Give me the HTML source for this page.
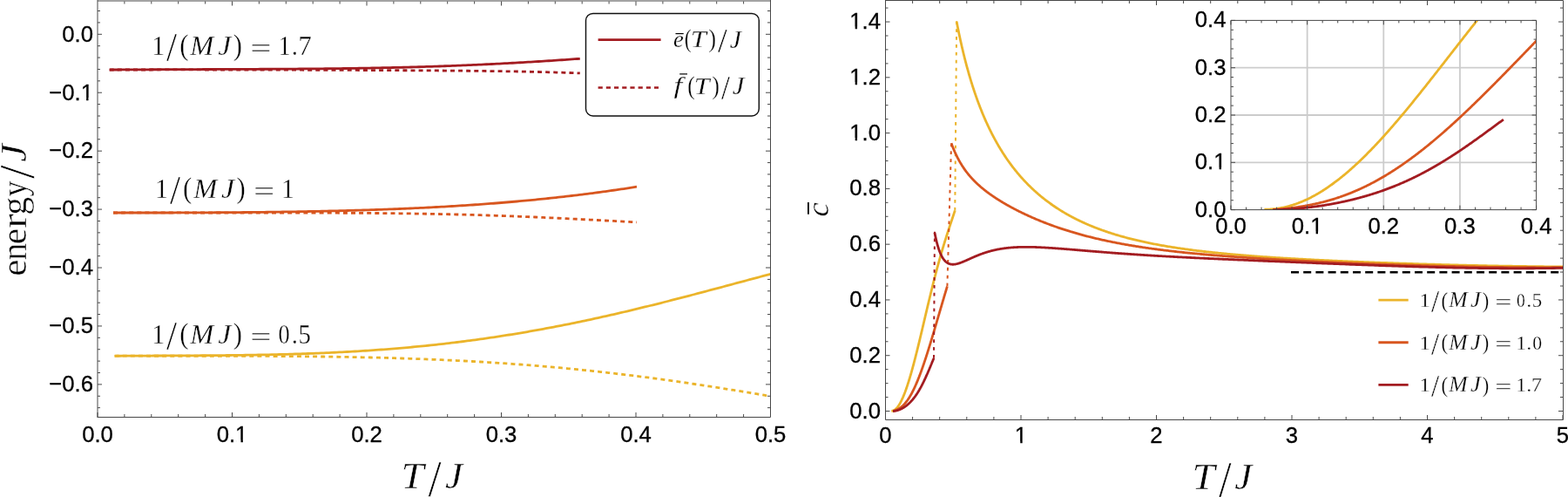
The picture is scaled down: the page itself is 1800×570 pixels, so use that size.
<!DOCTYPE html>
<html><head><meta charset="utf-8"><title>plot</title>
<style>html,body{margin:0;padding:0;background:#fff;}svg{display:block;}</style></head>
<body>
<svg width="1800" height="570" viewBox="0 0 1800 570">
<rect x="0" y="0" width="1800" height="570" fill="#fff"/>
<g fill="none" stroke-linecap="butt" stroke-linejoin="round">
<path d="M131.60,408.28 L134.60,408.25 L137.60,408.23 L140.60,408.21 L143.60,408.19 L146.60,408.17 L149.60,408.15 L152.60,408.14 L155.60,408.12 L158.60,408.10 L161.60,408.09 L164.60,408.07 L167.60,408.06 L170.59,408.05 L173.59,408.03 L176.59,408.02 L179.59,408.01 L182.59,407.99 L185.59,407.98 L188.59,407.97 L191.59,407.96 L194.59,407.94 L197.59,407.93 L200.59,407.92 L203.59,407.90 L206.59,407.89 L209.59,407.88 L212.59,407.86 L215.59,407.85 L218.59,407.83 L221.59,407.82 L224.59,407.80 L227.59,407.78 L230.59,407.76 L233.59,407.75 L236.59,407.73 L239.59,407.70 L242.59,407.68 L245.58,407.66 L248.58,407.63 L251.58,407.61 L254.58,407.58 L257.58,407.55 L260.58,407.52 L263.58,407.49 L266.58,407.46 L269.58,407.42 L272.58,407.38 L275.58,407.35 L278.58,407.31 L281.58,407.26 L284.58,407.22 L287.58,407.17 L290.58,407.12 L293.58,407.07 L296.58,407.02 L299.58,406.97 L302.58,406.91 L305.58,406.85 L308.58,406.79 L311.58,406.72 L314.58,406.65 L317.58,406.59 L320.57,406.51 L323.57,406.44 L326.57,406.36 L329.57,406.28 L332.57,406.19 L335.57,406.11 L338.57,406.02 L341.57,405.92 L344.57,405.83 L347.57,405.73 L350.57,405.63 L353.57,405.52 L356.57,405.41 L359.57,405.30 L362.57,405.18 L365.57,405.06 L368.57,404.94 L371.57,404.81 L374.57,404.68 L377.57,404.55 L380.57,404.41 L383.57,404.27 L386.57,404.12 L389.57,403.97 L392.57,403.82 L395.56,403.66 L398.56,403.50 L401.56,403.33 L404.56,403.16 L407.56,402.99 L410.56,402.81 L413.56,402.63 L416.56,402.44 L419.56,402.25 L422.56,402.05 L425.56,401.85 L428.56,401.65 L431.56,401.44 L434.56,401.22 L437.56,401.01 L440.56,400.78 L443.56,400.55 L446.56,400.32 L449.56,400.08 L452.56,399.84 L455.56,399.59 L458.56,399.34 L461.56,399.09 L464.56,398.82 L467.56,398.56 L470.55,398.28 L473.55,398.01 L476.55,397.73 L479.55,397.44 L482.55,397.15 L485.55,396.85 L488.55,396.55 L491.55,396.24 L494.55,395.92 L497.55,395.61 L500.55,395.28 L503.55,394.95 L506.55,394.62 L509.55,394.28 L512.55,393.93 L515.55,393.58 L518.55,393.23 L521.55,392.87 L524.55,392.50 L527.55,392.13 L530.55,391.75 L533.55,391.37 L536.55,390.98 L539.55,390.58 L542.55,390.18 L545.55,389.78 L548.54,389.37 L551.54,388.95 L554.54,388.53 L557.54,388.10 L560.54,387.67 L563.54,387.23 L566.54,386.79 L569.54,386.34 L572.54,385.88 L575.54,385.42 L578.54,384.95 L581.54,384.48 L584.54,384.00 L587.54,383.52 L590.54,383.03 L593.54,382.54 L596.54,382.04 L599.54,381.53 L602.54,381.02 L605.54,380.51 L608.54,379.98 L611.54,379.46 L614.54,378.92 L617.54,378.39 L620.54,377.84 L623.53,377.29 L626.53,376.74 L629.53,376.18 L632.53,375.61 L635.53,375.04 L638.53,374.47 L641.53,373.88 L644.53,373.30 L647.53,372.71 L650.53,372.11 L653.53,371.51 L656.53,370.90 L659.53,370.29 L662.53,369.67 L665.53,369.05 L668.53,368.42 L671.53,367.79 L674.53,367.15 L677.53,366.51 L680.53,365.86 L683.53,365.21 L686.53,364.55 L689.53,363.89 L692.53,363.23 L695.53,362.56 L698.52,361.88 L701.52,361.20 L704.52,360.52 L707.52,359.83 L710.52,359.14 L713.52,358.44 L716.52,357.74 L719.52,357.03 L722.52,356.32 L725.52,355.61 L728.52,354.89 L731.52,354.17 L734.52,353.45 L737.52,352.72 L740.52,351.98 L743.52,351.25 L746.52,350.51 L749.52,349.77 L752.52,349.02 L755.52,348.27 L758.52,347.52 L761.52,346.76 L764.52,346.00 L767.52,345.24 L770.52,344.48 L773.51,343.71 L776.51,342.94 L779.51,342.16 L782.51,341.39 L785.51,340.61 L788.51,339.83 L791.51,339.05 L794.51,338.26 L797.51,337.48 L800.51,336.69 L803.51,335.90 L806.51,335.11 L809.51,334.32 L812.51,333.52 L815.51,332.72 L818.51,331.93 L821.51,331.13 L824.51,330.33 L827.51,329.53 L830.51,328.73 L833.51,327.93 L836.51,327.12 L839.51,326.32 L842.51,325.52 L845.51,324.72 L848.50,323.91 L851.50,323.11 L854.50,322.31 L857.50,321.51 L860.50,320.71 L863.50,319.91 L866.50,319.11 L869.50,318.31 L872.50,317.51 L875.50,316.71 L878.50,315.92 L881.50,315.13 L884.50,314.34" stroke="#ebb42a" stroke-width="2.8"/>
<path d="M131.60,408.18 L134.60,408.18 L137.60,408.19 L140.60,408.19 L143.60,408.20 L146.60,408.20 L149.60,408.21 L152.60,408.21 L155.60,408.21 L158.60,408.22 L161.60,408.22 L164.60,408.22 L167.60,408.22 L170.59,408.23 L173.59,408.23 L176.59,408.23 L179.59,408.23 L182.59,408.24 L185.59,408.24 L188.59,408.24 L191.59,408.24 L194.59,408.24 L197.59,408.24 L200.59,408.25 L203.59,408.25 L206.59,408.25 L209.59,408.25 L212.59,408.25 L215.59,408.25 L218.59,408.26 L221.59,408.26 L224.59,408.26 L227.59,408.26 L230.59,408.26 L233.59,408.27 L236.59,408.27 L239.59,408.27 L242.59,408.28 L245.58,408.28 L248.58,408.28 L251.58,408.29 L254.58,408.29 L257.58,408.30 L260.58,408.30 L263.58,408.31 L266.58,408.32 L269.58,408.32 L272.58,408.33 L275.58,408.34 L278.58,408.35 L281.58,408.35 L284.58,408.36 L287.58,408.37 L290.58,408.39 L293.58,408.40 L296.58,408.41 L299.58,408.42 L302.58,408.44 L305.58,408.45 L308.58,408.47 L311.58,408.48 L314.58,408.50 L317.58,408.52 L320.57,408.54 L323.57,408.56 L326.57,408.58 L329.57,408.60 L332.57,408.62 L335.57,408.64 L338.57,408.67 L341.57,408.70 L344.57,408.72 L347.57,408.75 L350.57,408.78 L353.57,408.81 L356.57,408.84 L359.57,408.88 L362.57,408.91 L365.57,408.95 L368.57,408.99 L371.57,409.02 L374.57,409.06 L377.57,409.11 L380.57,409.15 L383.57,409.19 L386.57,409.24 L389.57,409.29 L392.57,409.34 L395.56,409.39 L398.56,409.44 L401.56,409.50 L404.56,409.55 L407.56,409.61 L410.56,409.67 L413.56,409.73 L416.56,409.80 L419.56,409.86 L422.56,409.93 L425.56,410.00 L428.56,410.07 L431.56,410.14 L434.56,410.22 L437.56,410.29 L440.56,410.37 L443.56,410.45 L446.56,410.54 L449.56,410.62 L452.56,410.71 L455.56,410.80 L458.56,410.89 L461.56,410.99 L464.56,411.09 L467.56,411.19 L470.55,411.29 L473.55,411.39 L476.55,411.50 L479.55,411.61 L482.55,411.72 L485.55,411.83 L488.55,411.95 L491.55,412.07 L494.55,412.19 L497.55,412.31 L500.55,412.44 L503.55,412.57 L506.55,412.70 L509.55,412.83 L512.55,412.97 L515.55,413.11 L518.55,413.25 L521.55,413.40 L524.55,413.55 L527.55,413.70 L530.55,413.85 L533.55,414.01 L536.55,414.17 L539.55,414.33 L542.55,414.49 L545.55,414.66 L548.54,414.83 L551.54,415.01 L554.54,415.19 L557.54,415.37 L560.54,415.55 L563.54,415.74 L566.54,415.93 L569.54,416.12 L572.54,416.31 L575.54,416.51 L578.54,416.71 L581.54,416.92 L584.54,417.13 L587.54,417.34 L590.54,417.55 L593.54,417.77 L596.54,417.99 L599.54,418.22 L602.54,418.45 L605.54,418.68 L608.54,418.91 L611.54,419.15 L614.54,419.39 L617.54,419.63 L620.54,419.88 L623.53,420.13 L626.53,420.39 L629.53,420.64 L632.53,420.91 L635.53,421.17 L638.53,421.44 L641.53,421.71 L644.53,421.98 L647.53,422.26 L650.53,422.54 L653.53,422.83 L656.53,423.12 L659.53,423.41 L662.53,423.71 L665.53,424.00 L668.53,424.31 L671.53,424.61 L674.53,424.92 L677.53,425.23 L680.53,425.55 L683.53,425.87 L686.53,426.19 L689.53,426.52 L692.53,426.85 L695.53,427.18 L698.52,427.52 L701.52,427.86 L704.52,428.20 L707.52,428.55 L710.52,428.90 L713.52,429.25 L716.52,429.61 L719.52,429.97 L722.52,430.34 L725.52,430.70 L728.52,431.07 L731.52,431.45 L734.52,431.83 L737.52,432.21 L740.52,432.59 L743.52,432.98 L746.52,433.37 L749.52,433.76 L752.52,434.16 L755.52,434.56 L758.52,434.97 L761.52,435.37 L764.52,435.78 L767.52,436.20 L770.52,436.61 L773.51,437.03 L776.51,437.46 L779.51,437.88 L782.51,438.31 L785.51,438.74 L788.51,439.18 L791.51,439.62 L794.51,440.06 L797.51,440.50 L800.51,440.95 L803.51,441.40 L806.51,441.85 L809.51,442.31 L812.51,442.76 L815.51,443.23 L818.51,443.69 L821.51,444.16 L824.51,444.62 L827.51,445.10 L830.51,445.57 L833.51,446.05 L836.51,446.53 L839.51,447.01 L842.51,447.49 L845.51,447.98 L848.50,448.47 L851.50,448.96 L854.50,449.45 L857.50,449.95 L860.50,450.45 L863.50,450.95 L866.50,451.45 L869.50,451.96 L872.50,452.46 L875.50,452.97 L878.50,453.48 L881.50,453.99 L884.50,454.51" stroke="#ebb42a" stroke-width="2.8" stroke-dasharray="5 4.1"/>
<path d="M130.00,243.98 L132.99,243.99 L135.98,243.99 L138.97,244.00 L141.96,244.01 L144.95,244.01 L147.94,244.01 L150.93,244.02 L153.92,244.02 L156.91,244.02 L159.90,244.02 L162.89,244.02 L165.88,244.02 L168.87,244.02 L171.86,244.02 L174.85,244.02 L177.84,244.02 L180.83,244.01 L183.82,244.01 L186.81,244.01 L189.80,244.00 L192.79,243.99 L195.78,243.99 L198.77,243.98 L201.76,243.97 L204.75,243.96 L207.74,243.95 L210.73,243.94 L213.72,243.93 L216.71,243.92 L219.70,243.91 L222.69,243.90 L225.68,243.89 L228.67,243.87 L231.66,243.86 L234.65,243.84 L237.64,243.83 L240.63,243.81 L243.62,243.79 L246.61,243.77 L249.60,243.76 L252.59,243.74 L255.58,243.72 L258.57,243.69 L261.56,243.67 L264.55,243.65 L267.54,243.63 L270.53,243.60 L273.52,243.58 L276.51,243.55 L279.50,243.52 L282.49,243.50 L285.48,243.47 L288.47,243.44 L291.46,243.41 L294.45,243.38 L297.44,243.34 L300.43,243.31 L303.42,243.28 L306.41,243.24 L309.40,243.20 L312.39,243.17 L315.38,243.13 L318.37,243.09 L321.36,243.05 L324.35,243.00 L327.34,242.96 L330.33,242.92 L333.32,242.87 L336.31,242.82 L339.30,242.78 L342.29,242.73 L345.28,242.68 L348.27,242.62 L351.26,242.57 L354.25,242.52 L357.24,242.46 L360.23,242.40 L363.22,242.34 L366.21,242.28 L369.20,242.22 L372.19,242.16 L375.18,242.09 L378.17,242.02 L381.16,241.95 L384.15,241.88 L387.14,241.81 L390.13,241.74 L393.12,241.66 L396.11,241.59 L399.10,241.51 L402.09,241.43 L405.08,241.34 L408.07,241.26 L411.06,241.17 L414.05,241.08 L417.04,240.99 L420.03,240.90 L423.02,240.81 L426.01,240.71 L429.00,240.61 L432.00,240.51 L434.99,240.41 L437.98,240.30 L440.97,240.19 L443.96,240.08 L446.95,239.97 L449.94,239.86 L452.93,239.74 L455.92,239.62 L458.91,239.50 L461.90,239.37 L464.89,239.25 L467.88,239.12 L470.87,238.99 L473.86,238.85 L476.85,238.72 L479.84,238.58 L482.83,238.43 L485.82,238.29 L488.81,238.14 L491.80,237.99 L494.79,237.84 L497.78,237.68 L500.77,237.52 L503.76,237.36 L506.75,237.20 L509.74,237.03 L512.73,236.86 L515.72,236.68 L518.71,236.51 L521.70,236.33 L524.69,236.14 L527.68,235.96 L530.67,235.77 L533.66,235.57 L536.65,235.38 L539.64,235.18 L542.63,234.98 L545.62,234.77 L548.61,234.56 L551.60,234.35 L554.59,234.13 L557.58,233.91 L560.57,233.69 L563.56,233.46 L566.55,233.23 L569.54,232.99 L572.53,232.76 L575.52,232.52 L578.51,232.27 L581.50,232.02 L584.49,231.77 L587.48,231.51 L590.47,231.25 L593.46,230.99 L596.45,230.72 L599.44,230.45 L602.43,230.17 L605.42,229.89 L608.41,229.61 L611.40,229.32 L614.39,229.03 L617.38,228.73 L620.37,228.43 L623.36,228.13 L626.35,227.82 L629.34,227.51 L632.33,227.19 L635.32,226.87 L638.31,226.54 L641.30,226.21 L644.29,225.88 L647.28,225.54 L650.27,225.20 L653.26,224.85 L656.25,224.50 L659.24,224.14 L662.23,223.78 L665.22,223.42 L668.21,223.05 L671.20,222.68 L674.19,222.30 L677.18,221.92 L680.17,221.53 L683.16,221.14 L686.15,220.74 L689.14,220.34 L692.13,219.93 L695.12,219.52 L698.11,219.11 L701.10,218.69 L704.09,218.26 L707.08,217.83 L710.07,217.40 L713.06,216.96 L716.05,216.52 L719.04,216.07 L722.03,215.62 L725.02,215.16 L728.01,214.70 L731.00,214.23" stroke="#d8561f" stroke-width="2.8"/>
<path d="M130.00,244.01 L132.99,244.00 L135.98,243.99 L138.97,243.98 L141.96,243.98 L144.95,243.97 L147.94,243.96 L150.93,243.96 L153.92,243.96 L156.91,243.95 L159.90,243.95 L162.89,243.95 L165.88,243.95 L168.87,243.95 L171.86,243.95 L174.85,243.95 L177.84,243.95 L180.83,243.95 L183.82,243.95 L186.81,243.96 L189.80,243.96 L192.79,243.96 L195.78,243.96 L198.77,243.97 L201.76,243.97 L204.75,243.97 L207.74,243.97 L210.73,243.98 L213.72,243.98 L216.71,243.98 L219.70,243.99 L222.69,243.99 L225.68,243.99 L228.67,244.00 L231.66,244.00 L234.65,244.00 L237.64,244.01 L240.63,244.01 L243.62,244.01 L246.61,244.02 L249.60,244.02 L252.59,244.02 L255.58,244.02 L258.57,244.03 L261.56,244.03 L264.55,244.03 L267.54,244.04 L270.53,244.04 L273.52,244.04 L276.51,244.04 L279.50,244.04 L282.49,244.05 L285.48,244.05 L288.47,244.05 L291.46,244.05 L294.45,244.05 L297.44,244.06 L300.43,244.06 L303.42,244.06 L306.41,244.06 L309.40,244.07 L312.39,244.07 L315.38,244.07 L318.37,244.07 L321.36,244.08 L324.35,244.08 L327.34,244.08 L330.33,244.09 L333.32,244.09 L336.31,244.09 L339.30,244.10 L342.29,244.10 L345.28,244.11 L348.27,244.11 L351.26,244.12 L354.25,244.12 L357.24,244.13 L360.23,244.14 L363.22,244.14 L366.21,244.15 L369.20,244.16 L372.19,244.17 L375.18,244.18 L378.17,244.19 L381.16,244.20 L384.15,244.21 L387.14,244.22 L390.13,244.23 L393.12,244.24 L396.11,244.26 L399.10,244.27 L402.09,244.29 L405.08,244.31 L408.07,244.32 L411.06,244.34 L414.05,244.36 L417.04,244.38 L420.03,244.40 L423.02,244.42 L426.01,244.45 L429.00,244.47 L432.00,244.50 L434.99,244.52 L437.98,244.55 L440.97,244.58 L443.96,244.61 L446.95,244.64 L449.94,244.67 L452.93,244.71 L455.92,244.74 L458.91,244.78 L461.90,244.82 L464.89,244.86 L467.88,244.90 L470.87,244.94 L473.86,244.99 L476.85,245.03 L479.84,245.08 L482.83,245.13 L485.82,245.18 L488.81,245.23 L491.80,245.28 L494.79,245.34 L497.78,245.39 L500.77,245.45 L503.76,245.51 L506.75,245.57 L509.74,245.64 L512.73,245.70 L515.72,245.77 L518.71,245.84 L521.70,245.91 L524.69,245.98 L527.68,246.05 L530.67,246.13 L533.66,246.21 L536.65,246.29 L539.64,246.37 L542.63,246.45 L545.62,246.54 L548.61,246.63 L551.60,246.71 L554.59,246.81 L557.58,246.90 L560.57,246.99 L563.56,247.09 L566.55,247.19 L569.54,247.29 L572.53,247.39 L575.52,247.49 L578.51,247.60 L581.50,247.71 L584.49,247.82 L587.48,247.93 L590.47,248.04 L593.46,248.16 L596.45,248.28 L599.44,248.40 L602.43,248.52 L605.42,248.64 L608.41,248.76 L611.40,248.89 L614.39,249.02 L617.38,249.15 L620.37,249.28 L623.36,249.41 L626.35,249.54 L629.34,249.68 L632.33,249.82 L635.32,249.96 L638.31,250.10 L641.30,250.24 L644.29,250.38 L647.28,250.53 L650.27,250.67 L653.26,250.82 L656.25,250.97 L659.24,251.12 L662.23,251.27 L665.22,251.42 L668.21,251.57 L671.20,251.73 L674.19,251.88 L677.18,252.04 L680.17,252.19 L683.16,252.35 L686.15,252.51 L689.14,252.67 L692.13,252.83 L695.12,252.99 L698.11,253.15 L701.10,253.31 L704.09,253.47 L707.08,253.63 L710.07,253.79 L713.06,253.95 L716.05,254.11 L719.04,254.27 L722.03,254.43 L725.02,254.59 L728.01,254.75 L731.00,254.91" stroke="#d8561f" stroke-width="2.8" stroke-dasharray="5 4.1"/>
<path d="M125.70,80.03 L128.68,80.01 L131.67,79.99 L134.65,79.98 L137.64,79.96 L140.62,79.95 L143.60,79.93 L146.59,79.91 L149.57,79.90 L152.56,79.88 L155.54,79.87 L158.52,79.85 L161.51,79.83 L164.49,79.82 L167.48,79.80 L170.46,79.79 L173.44,79.77 L176.43,79.76 L179.41,79.75 L182.40,79.73 L185.38,79.72 L188.36,79.70 L191.35,79.69 L194.33,79.68 L197.32,79.66 L200.30,79.65 L203.28,79.64 L206.27,79.63 L209.25,79.61 L212.24,79.60 L215.22,79.59 L218.20,79.58 L221.19,79.57 L224.17,79.55 L227.16,79.54 L230.14,79.53 L233.12,79.52 L236.11,79.51 L239.09,79.50 L242.08,79.49 L245.06,79.48 L248.04,79.47 L251.03,79.45 L254.01,79.44 L257.00,79.43 L259.98,79.42 L262.96,79.41 L265.95,79.40 L268.93,79.39 L271.91,79.38 L274.90,79.37 L277.88,79.36 L280.87,79.34 L283.85,79.33 L286.83,79.32 L289.82,79.31 L292.80,79.30 L295.79,79.28 L298.77,79.27 L301.75,79.26 L304.74,79.24 L307.72,79.23 L310.71,79.21 L313.69,79.20 L316.67,79.18 L319.66,79.17 L322.64,79.15 L325.63,79.13 L328.61,79.11 L331.59,79.10 L334.58,79.08 L337.56,79.06 L340.55,79.04 L343.53,79.02 L346.51,78.99 L349.50,78.97 L352.48,78.95 L355.47,78.92 L358.45,78.90 L361.43,78.87 L364.42,78.84 L367.40,78.82 L370.39,78.79 L373.37,78.76 L376.35,78.73 L379.34,78.69 L382.32,78.66 L385.31,78.63 L388.29,78.59 L391.27,78.55 L394.26,78.52 L397.24,78.48 L400.23,78.43 L403.21,78.39 L406.19,78.35 L409.18,78.30 L412.16,78.26 L415.15,78.21 L418.13,78.16 L421.11,78.11 L424.10,78.06 L427.08,78.00 L430.07,77.95 L433.05,77.89 L436.03,77.83 L439.02,77.77 L442.00,77.71 L444.99,77.65 L447.97,77.58 L450.95,77.52 L453.94,77.45 L456.92,77.38 L459.91,77.30 L462.89,77.23 L465.87,77.15 L468.86,77.08 L471.84,77.00 L474.83,76.91 L477.81,76.83 L480.79,76.74 L483.78,76.66 L486.76,76.57 L489.75,76.47 L492.73,76.38 L495.71,76.28 L498.70,76.19 L501.68,76.09 L504.67,75.98 L507.65,75.88 L510.63,75.77 L513.62,75.66 L516.60,75.55 L519.59,75.44 L522.57,75.33 L525.55,75.21 L528.54,75.09 L531.52,74.97 L534.50,74.84 L537.49,74.72 L540.47,74.59 L543.46,74.46 L546.44,74.33 L549.42,74.19 L552.41,74.05 L555.39,73.91 L558.38,73.77 L561.36,73.63 L564.34,73.48 L567.33,73.33 L570.31,73.18 L573.30,73.03 L576.28,72.88 L579.26,72.72 L582.25,72.56 L585.23,72.40 L588.22,72.23 L591.20,72.07 L594.18,71.90 L597.17,71.73 L600.15,71.56 L603.14,71.39 L606.12,71.21 L609.10,71.03 L612.09,70.85 L615.07,70.67 L618.06,70.49 L621.04,70.30 L624.02,70.11 L627.01,69.92 L629.99,69.73 L632.98,69.54 L635.96,69.34 L638.94,69.15 L641.93,68.95 L644.91,68.75 L647.90,68.54 L650.88,68.34 L653.86,68.14 L656.85,67.93 L659.83,67.72 L662.82,67.51 L665.80,67.30" stroke="#a31c21" stroke-width="2.8"/>
<path d="M125.70,80.01 L128.68,80.01 L131.67,80.01 L134.65,80.00 L137.64,80.00 L140.62,80.00 L143.60,80.00 L146.59,80.00 L149.57,79.99 L152.56,79.99 L155.54,79.99 L158.52,79.99 L161.51,79.98 L164.49,79.98 L167.48,79.98 L170.46,79.98 L173.44,79.98 L176.43,79.97 L179.41,79.97 L182.40,79.97 L185.38,79.97 L188.36,79.97 L191.35,79.97 L194.33,79.97 L197.32,79.97 L200.30,79.96 L203.28,79.96 L206.27,79.96 L209.25,79.96 L212.24,79.96 L215.22,79.97 L218.20,79.97 L221.19,79.97 L224.17,79.97 L227.16,79.97 L230.14,79.97 L233.12,79.97 L236.11,79.98 L239.09,79.98 L242.08,79.98 L245.06,79.98 L248.04,79.99 L251.03,79.99 L254.01,79.99 L257.00,80.00 L259.98,80.00 L262.96,80.01 L265.95,80.01 L268.93,80.02 L271.91,80.02 L274.90,80.03 L277.88,80.03 L280.87,80.04 L283.85,80.05 L286.83,80.05 L289.82,80.06 L292.80,80.07 L295.79,80.07 L298.77,80.08 L301.75,80.09 L304.74,80.10 L307.72,80.10 L310.71,80.11 L313.69,80.12 L316.67,80.13 L319.66,80.14 L322.64,80.15 L325.63,80.16 L328.61,80.16 L331.59,80.17 L334.58,80.18 L337.56,80.19 L340.55,80.20 L343.53,80.21 L346.51,80.22 L349.50,80.23 L352.48,80.24 L355.47,80.26 L358.45,80.27 L361.43,80.28 L364.42,80.29 L367.40,80.30 L370.39,80.31 L373.37,80.32 L376.35,80.33 L379.34,80.35 L382.32,80.36 L385.31,80.37 L388.29,80.38 L391.27,80.39 L394.26,80.41 L397.24,80.42 L400.23,80.43 L403.21,80.44 L406.19,80.46 L409.18,80.47 L412.16,80.48 L415.15,80.50 L418.13,80.51 L421.11,80.52 L424.10,80.54 L427.08,80.55 L430.07,80.56 L433.05,80.58 L436.03,80.59 L439.02,80.61 L442.00,80.62 L444.99,80.64 L447.97,80.65 L450.95,80.67 L453.94,80.68 L456.92,80.70 L459.91,80.71 L462.89,80.73 L465.87,80.75 L468.86,80.76 L471.84,80.78 L474.83,80.80 L477.81,80.81 L480.79,80.83 L483.78,80.85 L486.76,80.87 L489.75,80.89 L492.73,80.91 L495.71,80.93 L498.70,80.95 L501.68,80.97 L504.67,80.99 L507.65,81.01 L510.63,81.03 L513.62,81.06 L516.60,81.08 L519.59,81.10 L522.57,81.13 L525.55,81.15 L528.54,81.18 L531.52,81.21 L534.50,81.23 L537.49,81.26 L540.47,81.29 L543.46,81.32 L546.44,81.35 L549.42,81.38 L552.41,81.42 L555.39,81.45 L558.38,81.49 L561.36,81.52 L564.34,81.56 L567.33,81.60 L570.31,81.64 L573.30,81.68 L576.28,81.72 L579.26,81.77 L582.25,81.81 L585.23,81.86 L588.22,81.91 L591.20,81.96 L594.18,82.01 L597.17,82.06 L600.15,82.12 L603.14,82.17 L606.12,82.23 L609.10,82.29 L612.09,82.36 L615.07,82.42 L618.06,82.49 L621.04,82.56 L624.02,82.63 L627.01,82.71 L629.99,82.78 L632.98,82.86 L635.96,82.94 L638.94,83.03 L641.93,83.12 L644.91,83.21 L647.90,83.30 L650.88,83.39 L653.86,83.49 L656.85,83.60 L659.83,83.70 L662.82,83.81 L665.80,83.92" stroke="#a31c21" stroke-width="2.8" stroke-dasharray="5 4.1"/>
</g>
<path d="M112,0 L112,478.5 M111.5,478.5 L884.5,478.5 M884.5,478.5 L884.5,0 M112,1 L884.5,1" stroke="#484848" stroke-width="1" fill="none"/>
<path d="M112.00,478 L112.00,473 M142.90,478 L142.90,475 M142.90,1.5 L142.90,4.5 M173.80,478 L173.80,475 M173.80,1.5 L173.80,4.5 M204.70,478 L204.70,475 M204.70,1.5 L204.70,4.5 M235.60,478 L235.60,475 M235.60,1.5 L235.60,4.5 M266.50,478 L266.50,473 M266.50,1.5 L266.50,6.5 M297.40,478 L297.40,475 M297.40,1.5 L297.40,4.5 M328.30,478 L328.30,475 M328.30,1.5 L328.30,4.5 M359.20,478 L359.20,475 M359.20,1.5 L359.20,4.5 M390.10,478 L390.10,475 M390.10,1.5 L390.10,4.5 M421.00,478 L421.00,473 M421.00,1.5 L421.00,6.5 M451.90,478 L451.90,475 M451.90,1.5 L451.90,4.5 M482.80,478 L482.80,475 M482.80,1.5 L482.80,4.5 M513.70,478 L513.70,475 M513.70,1.5 L513.70,4.5 M544.60,478 L544.60,475 M544.60,1.5 L544.60,4.5 M575.50,478 L575.50,473 M575.50,1.5 L575.50,6.5 M606.40,478 L606.40,475 M606.40,1.5 L606.40,4.5 M637.30,478 L637.30,475 M637.30,1.5 L637.30,4.5 M668.20,478 L668.20,475 M668.20,1.5 L668.20,4.5 M699.10,478 L699.10,475 M699.10,1.5 L699.10,4.5 M730.00,478 L730.00,473 M730.00,1.5 L730.00,6.5 M760.90,478 L760.90,475 M760.90,1.5 L760.90,4.5 M791.80,478 L791.80,475 M791.80,1.5 L791.80,4.5 M822.70,478 L822.70,475 M822.70,1.5 L822.70,4.5 M853.60,478 L853.60,475 M853.60,1.5 L853.60,4.5 M884.50,478 L884.50,473 M112,467.65 L115,467.65 M884,467.65 L881,467.65 M112,454.27 L115,454.27 M884,454.27 L881,454.27 M112,440.88 L117,440.88 M884,440.88 L879,440.88 M112,427.49 L115,427.49 M884,427.49 L881,427.49 M112,414.11 L115,414.11 M884,414.11 L881,414.11 M112,400.72 L115,400.72 M884,400.72 L881,400.72 M112,387.34 L115,387.34 M884,387.34 L881,387.34 M112,373.95 L117,373.95 M884,373.95 L879,373.95 M112,360.56 L115,360.56 M884,360.56 L881,360.56 M112,347.18 L115,347.18 M884,347.18 L881,347.18 M112,333.79 L115,333.79 M884,333.79 L881,333.79 M112,320.41 L115,320.41 M884,320.41 L881,320.41 M112,307.02 L117,307.02 M884,307.02 L879,307.02 M112,293.63 L115,293.63 M884,293.63 L881,293.63 M112,280.25 L115,280.25 M884,280.25 L881,280.25 M112,266.86 L115,266.86 M884,266.86 L881,266.86 M112,253.48 L115,253.48 M884,253.48 L881,253.48 M112,240.09 L117,240.09 M884,240.09 L879,240.09 M112,226.70 L115,226.70 M884,226.70 L881,226.70 M112,213.32 L115,213.32 M884,213.32 L881,213.32 M112,199.93 L115,199.93 M884,199.93 L881,199.93 M112,186.55 L115,186.55 M884,186.55 L881,186.55 M112,173.16 L117,173.16 M884,173.16 L879,173.16 M112,159.77 L115,159.77 M884,159.77 L881,159.77 M112,146.39 L115,146.39 M884,146.39 L881,146.39 M112,133.00 L115,133.00 M884,133.00 L881,133.00 M112,119.62 L115,119.62 M884,119.62 L881,119.62 M112,106.23 L117,106.23 M884,106.23 L879,106.23 M112,92.84 L115,92.84 M884,92.84 L881,92.84 M112,79.46 L115,79.46 M884,79.46 L881,79.46 M112,66.07 L115,66.07 M884,66.07 L881,66.07 M112,52.69 L115,52.69 M884,52.69 L881,52.69 M112,39.30 L117,39.30 M884,39.30 L879,39.30 M112,25.91 L115,25.91 M884,25.91 L881,25.91 M112,12.53 L115,12.53 M884,12.53 L881,12.53" stroke="#484848" stroke-width="1" fill="none"/>
<text x="112.00" y="507.00" font-family="'Liberation Sans', sans-serif" font-size="26.5" text-anchor="middle" textLength="35.73" lengthAdjust="spacingAndGlyphs" stroke="#000" stroke-width="0.3">0.0</text>
<text x="266.50" y="507.00" font-family="'Liberation Sans', sans-serif" font-size="26.5" text-anchor="middle" textLength="35.73" lengthAdjust="spacingAndGlyphs" stroke="#000" stroke-width="0.3">0.1</text>
<text x="421.00" y="507.00" font-family="'Liberation Sans', sans-serif" font-size="26.5" text-anchor="middle" textLength="35.73" lengthAdjust="spacingAndGlyphs" stroke="#000" stroke-width="0.3">0.2</text>
<text x="575.50" y="507.00" font-family="'Liberation Sans', sans-serif" font-size="26.5" text-anchor="middle" textLength="35.73" lengthAdjust="spacingAndGlyphs" stroke="#000" stroke-width="0.3">0.3</text>
<text x="730.00" y="507.00" font-family="'Liberation Sans', sans-serif" font-size="26.5" text-anchor="middle" textLength="35.73" lengthAdjust="spacingAndGlyphs" stroke="#000" stroke-width="0.3">0.4</text>
<text x="884.50" y="507.00" font-family="'Liberation Sans', sans-serif" font-size="26.5" text-anchor="middle" textLength="35.73" lengthAdjust="spacingAndGlyphs" stroke="#000" stroke-width="0.3">0.5</text>
<text x="107.00" y="47.60" font-family="'Liberation Sans', sans-serif" font-size="26.5" text-anchor="end" textLength="35.73" lengthAdjust="spacingAndGlyphs" stroke="#000" stroke-width="0.3">0.0</text>
<text x="107.00" y="114.53" font-family="'Liberation Sans', sans-serif" font-size="26.5" text-anchor="end" textLength="50.74" lengthAdjust="spacingAndGlyphs" stroke="#000" stroke-width="0.3">−0.1</text>
<text x="107.00" y="181.46" font-family="'Liberation Sans', sans-serif" font-size="26.5" text-anchor="end" textLength="50.74" lengthAdjust="spacingAndGlyphs" stroke="#000" stroke-width="0.3">−0.2</text>
<text x="107.00" y="248.39" font-family="'Liberation Sans', sans-serif" font-size="26.5" text-anchor="end" textLength="50.74" lengthAdjust="spacingAndGlyphs" stroke="#000" stroke-width="0.3">−0.3</text>
<text x="107.00" y="315.32" font-family="'Liberation Sans', sans-serif" font-size="26.5" text-anchor="end" textLength="50.74" lengthAdjust="spacingAndGlyphs" stroke="#000" stroke-width="0.3">−0.4</text>
<text x="107.00" y="382.25" font-family="'Liberation Sans', sans-serif" font-size="26.5" text-anchor="end" textLength="50.74" lengthAdjust="spacingAndGlyphs" stroke="#000" stroke-width="0.3">−0.5</text>
<text x="107.00" y="449.18" font-family="'Liberation Sans', sans-serif" font-size="26.5" text-anchor="end" textLength="50.74" lengthAdjust="spacingAndGlyphs" stroke="#000" stroke-width="0.3">−0.6</text>
<text x="174.28" y="63.30" font-family="'Liberation Serif', serif" font-style="normal" font-size="31.50" textLength="14.91" lengthAdjust="spacingAndGlyphs" fill="#000" stroke="#fff" stroke-width="0.35">1</text>
<text x="191.10" y="70.30" font-family="'Liberation Serif', serif" font-style="normal" font-size="46.00" textLength="12.10" lengthAdjust="spacingAndGlyphs" fill="#000" stroke="#fff" stroke-width="0.51">/</text>
<text x="206.15" y="63.30" font-family="'Liberation Serif', serif" font-style="normal" font-size="33.60" textLength="10.24" lengthAdjust="spacingAndGlyphs" fill="#000" stroke="#fff" stroke-width="0.37">(</text>
<text x="218.38" y="63.30" font-family="'Liberation Serif', serif" font-style="italic" font-size="32.40" textLength="27.12" lengthAdjust="spacingAndGlyphs" fill="#000" stroke="#fff" stroke-width="0.36">M</text>
<text x="250.19" y="63.30" font-family="'Liberation Serif', serif" font-style="italic" font-size="32.40" textLength="15.09" lengthAdjust="spacingAndGlyphs" fill="#000" stroke="#fff" stroke-width="0.36">J</text>
<text x="267.71" y="63.30" font-family="'Liberation Serif', serif" font-style="normal" font-size="33.60" textLength="10.24" lengthAdjust="spacingAndGlyphs" fill="#000" stroke="#fff" stroke-width="0.37">)</text>
<text x="287.16" y="66.10" font-family="'Liberation Serif', serif" font-style="normal" font-size="31.50" textLength="24.24" lengthAdjust="spacingAndGlyphs" fill="#000" stroke="#fff" stroke-width="0.35">=</text>
<text x="319.50" y="63.30" font-family="'Liberation Serif', serif" font-style="normal" font-size="31.50" textLength="14.20" lengthAdjust="spacingAndGlyphs" fill="#000" stroke="#fff" stroke-width="0.35">1</text>
<text x="335.01" y="63.30" font-family="'Liberation Serif', serif" font-style="normal" font-size="31.50" textLength="6.77" lengthAdjust="spacingAndGlyphs" fill="#000" stroke="#fff" stroke-width="0.35">.</text>
<text x="342.15" y="63.30" font-family="'Liberation Serif', serif" font-style="normal" font-size="31.50" textLength="15.55" lengthAdjust="spacingAndGlyphs" fill="#000" stroke="#fff" stroke-width="0.35">7</text>
<text x="178.08" y="227.20" font-family="'Liberation Serif', serif" font-style="normal" font-size="31.50" textLength="14.91" lengthAdjust="spacingAndGlyphs" fill="#000" stroke="#fff" stroke-width="0.35">1</text>
<text x="194.90" y="234.20" font-family="'Liberation Serif', serif" font-style="normal" font-size="46.00" textLength="12.10" lengthAdjust="spacingAndGlyphs" fill="#000" stroke="#fff" stroke-width="0.51">/</text>
<text x="209.95" y="227.20" font-family="'Liberation Serif', serif" font-style="normal" font-size="33.60" textLength="10.24" lengthAdjust="spacingAndGlyphs" fill="#000" stroke="#fff" stroke-width="0.37">(</text>
<text x="222.18" y="227.20" font-family="'Liberation Serif', serif" font-style="italic" font-size="32.40" textLength="27.12" lengthAdjust="spacingAndGlyphs" fill="#000" stroke="#fff" stroke-width="0.36">M</text>
<text x="253.99" y="227.20" font-family="'Liberation Serif', serif" font-style="italic" font-size="32.40" textLength="15.09" lengthAdjust="spacingAndGlyphs" fill="#000" stroke="#fff" stroke-width="0.36">J</text>
<text x="271.51" y="227.20" font-family="'Liberation Serif', serif" font-style="normal" font-size="33.60" textLength="10.24" lengthAdjust="spacingAndGlyphs" fill="#000" stroke="#fff" stroke-width="0.37">)</text>
<text x="290.96" y="230.00" font-family="'Liberation Serif', serif" font-style="normal" font-size="31.50" textLength="24.24" lengthAdjust="spacingAndGlyphs" fill="#000" stroke="#fff" stroke-width="0.35">=</text>
<text x="322.98" y="227.20" font-family="'Liberation Serif', serif" font-style="normal" font-size="31.50" textLength="14.91" lengthAdjust="spacingAndGlyphs" fill="#000" stroke="#fff" stroke-width="0.35">1</text>
<text x="174.28" y="394.30" font-family="'Liberation Serif', serif" font-style="normal" font-size="31.50" textLength="14.91" lengthAdjust="spacingAndGlyphs" fill="#000" stroke="#fff" stroke-width="0.35">1</text>
<text x="191.10" y="401.30" font-family="'Liberation Serif', serif" font-style="normal" font-size="46.00" textLength="12.10" lengthAdjust="spacingAndGlyphs" fill="#000" stroke="#fff" stroke-width="0.51">/</text>
<text x="206.15" y="394.30" font-family="'Liberation Serif', serif" font-style="normal" font-size="33.60" textLength="10.24" lengthAdjust="spacingAndGlyphs" fill="#000" stroke="#fff" stroke-width="0.37">(</text>
<text x="218.38" y="394.30" font-family="'Liberation Serif', serif" font-style="italic" font-size="32.40" textLength="27.12" lengthAdjust="spacingAndGlyphs" fill="#000" stroke="#fff" stroke-width="0.36">M</text>
<text x="250.19" y="394.30" font-family="'Liberation Serif', serif" font-style="italic" font-size="32.40" textLength="15.09" lengthAdjust="spacingAndGlyphs" fill="#000" stroke="#fff" stroke-width="0.36">J</text>
<text x="267.71" y="394.30" font-family="'Liberation Serif', serif" font-style="normal" font-size="33.60" textLength="10.24" lengthAdjust="spacingAndGlyphs" fill="#000" stroke="#fff" stroke-width="0.37">)</text>
<text x="287.16" y="397.10" font-family="'Liberation Serif', serif" font-style="normal" font-size="31.50" textLength="24.24" lengthAdjust="spacingAndGlyphs" fill="#000" stroke="#fff" stroke-width="0.35">=</text>
<text x="319.40" y="394.30" font-family="'Liberation Serif', serif" font-style="normal" font-size="31.50" textLength="13.09" lengthAdjust="spacingAndGlyphs" fill="#000" stroke="#fff" stroke-width="0.35">0</text>
<text x="335.01" y="394.30" font-family="'Liberation Serif', serif" font-style="normal" font-size="31.50" textLength="6.77" lengthAdjust="spacingAndGlyphs" fill="#000" stroke="#fff" stroke-width="0.35">.</text>
<text x="342.53" y="394.30" font-family="'Liberation Serif', serif" font-style="normal" font-size="31.50" textLength="14.40" lengthAdjust="spacingAndGlyphs" fill="#000" stroke="#fff" stroke-width="0.35">5</text>
<rect x="672.5" y="15.4" width="198.8" height="117.5" rx="8.2" ry="8.2" fill="#fff" stroke="#111" stroke-width="1.45"/>
<path d="M686.6,45.7 L758.6,45.7" stroke="#a31c21" stroke-width="2.8" fill="none"/>
<path d="M686.6,100.5 L756,100.5" stroke="#a31c21" stroke-width="2.6" stroke-dasharray="5.2 4.0" fill="none"/>
<text x="772.88" y="54.30" font-family="'Liberation Serif', serif" font-style="italic" font-size="27.00" textLength="11.82" lengthAdjust="spacingAndGlyphs" fill="#000" stroke="#fff" stroke-width="0.30">e</text>
<path d="M775.5,38.6 L784.7,38.6" stroke="#000" stroke-width="1.2"/>
<text x="785.86" y="54.40" font-family="'Liberation Serif', serif" font-style="normal" font-size="29.40" textLength="7.91" lengthAdjust="spacingAndGlyphs" fill="#000" stroke="#fff" stroke-width="0.32">(</text>
<text x="792.78" y="54.30" font-family="'Liberation Serif', serif" font-style="italic" font-size="27.60" textLength="18.01" lengthAdjust="spacingAndGlyphs" fill="#000" stroke="#fff" stroke-width="0.30">T</text>
<text x="813.35" y="54.40" font-family="'Liberation Serif', serif" font-style="normal" font-size="29.40" textLength="8.82" lengthAdjust="spacingAndGlyphs" fill="#000" stroke="#fff" stroke-width="0.32">)</text>
<text x="824.00" y="60.30" font-family="'Liberation Serif', serif" font-style="normal" font-size="39.50" textLength="10.80" lengthAdjust="spacingAndGlyphs" fill="#000" stroke="#fff" stroke-width="0.43">/</text>
<text x="837.65" y="54.60" font-family="'Liberation Serif', serif" font-style="italic" font-size="28.70" textLength="13.19" lengthAdjust="spacingAndGlyphs" fill="#000" stroke="#fff" stroke-width="0.32">J</text>
<text x="773.51" y="107.40" font-family="'Liberation Serif', serif" font-style="italic" font-size="26.80" textLength="9.68" lengthAdjust="spacingAndGlyphs" fill="#000" stroke="#fff" stroke-width="0.29">f</text>
<path d="M780.2,84.9 L789,84.9" stroke="#000" stroke-width="1.2"/>
<text x="789.27" y="108.30" font-family="'Liberation Serif', serif" font-style="normal" font-size="29.40" textLength="8.56" lengthAdjust="spacingAndGlyphs" fill="#000" stroke="#fff" stroke-width="0.32">(</text>
<text x="796.72" y="107.80" font-family="'Liberation Serif', serif" font-style="italic" font-size="27.60" textLength="17.70" lengthAdjust="spacingAndGlyphs" fill="#000" stroke="#fff" stroke-width="0.30">T</text>
<text x="817.26" y="108.30" font-family="'Liberation Serif', serif" font-style="normal" font-size="29.40" textLength="8.69" lengthAdjust="spacingAndGlyphs" fill="#000" stroke="#fff" stroke-width="0.32">)</text>
<text x="827.90" y="114.20" font-family="'Liberation Serif', serif" font-style="normal" font-size="39.50" textLength="9.90" lengthAdjust="spacingAndGlyphs" fill="#000" stroke="#fff" stroke-width="0.43">/</text>
<text x="840.83" y="108.20" font-family="'Liberation Serif', serif" font-style="italic" font-size="28.70" textLength="13.66" lengthAdjust="spacingAndGlyphs" fill="#000" stroke="#fff" stroke-width="0.32">J</text>
<text x="460.63" y="559.70" font-family="'Liberation Serif', serif" font-style="italic" font-size="42.50" textLength="26.10" lengthAdjust="spacingAndGlyphs" fill="#000" stroke="#fff" stroke-width="0.47">T</text>
<text x="491.60" y="569.20" font-family="'Liberation Serif', serif" font-style="normal" font-size="59.00" textLength="15.20" lengthAdjust="spacingAndGlyphs" fill="#000" stroke="#fff" stroke-width="0.65">/</text>
<text x="510.91" y="559.70" font-family="'Liberation Serif', serif" font-style="italic" font-size="42.50" textLength="20.12" lengthAdjust="spacingAndGlyphs" fill="#000" stroke="#fff" stroke-width="0.47">J</text>
<g transform="rotate(-90)">
<text x="-316.80" y="29.80" font-family="'Liberation Serif', serif" font-style="normal" font-size="40.00" textLength="19.31" lengthAdjust="spacingAndGlyphs" fill="#000" stroke="#fff" stroke-width="0.44">e</text>
<text x="-298.40" y="29.80" font-family="'Liberation Serif', serif" font-style="normal" font-size="40.00" textLength="19.70" lengthAdjust="spacingAndGlyphs" fill="#000" stroke="#fff" stroke-width="0.44">n</text>
<text x="-280.23" y="29.80" font-family="'Liberation Serif', serif" font-style="normal" font-size="40.00" textLength="18.47" lengthAdjust="spacingAndGlyphs" fill="#000" stroke="#fff" stroke-width="0.44">e</text>
<text x="-262.01" y="29.80" font-family="'Liberation Serif', serif" font-style="normal" font-size="40.00" textLength="16.86" lengthAdjust="spacingAndGlyphs" fill="#000" stroke="#fff" stroke-width="0.44">r</text>
<text x="-246.80" y="29.80" font-family="'Liberation Serif', serif" font-style="normal" font-size="40.00" textLength="20.89" lengthAdjust="spacingAndGlyphs" fill="#000" stroke="#fff" stroke-width="0.44">g</text>
<text x="-225.44" y="29.80" font-family="'Liberation Serif', serif" font-style="normal" font-size="40.00" textLength="18.08" lengthAdjust="spacingAndGlyphs" fill="#000" stroke="#fff" stroke-width="0.44">y</text>
<text x="-205.00" y="38.80" font-family="'Liberation Serif', serif" font-style="normal" font-size="58.00" textLength="15.80" lengthAdjust="spacingAndGlyphs" fill="#000" stroke="#fff" stroke-width="0.64">/</text>
<text x="-185.70" y="29.80" font-family="'Liberation Serif', serif" font-style="italic" font-size="41.50" textLength="20.59" lengthAdjust="spacingAndGlyphs" fill="#000" stroke="#fff" stroke-width="0.46">J</text>
</g>
<path d="M1482,312.2 L1794,312.2" stroke="#000" stroke-width="2.6" stroke-dasharray="9 5.2" fill="none"/>
<g fill="none" stroke-linejoin="round" stroke-linecap="butt">
<path d="M1023.31,471.30 L1023.55,471.29 L1023.80,471.28 L1024.04,471.25 L1024.29,471.22 L1024.53,471.17 L1024.77,471.11 L1025.02,471.05 L1025.26,470.97 L1025.51,470.87 L1025.75,470.77 L1026.00,470.66 L1026.24,470.54 L1026.48,470.40 L1026.73,470.26 L1026.97,470.10 L1027.22,469.93 L1027.46,469.75 L1027.70,469.57 L1027.95,469.37 L1028.19,469.15 L1028.44,468.93 L1028.68,468.70 L1028.92,468.46 L1029.17,468.20 L1029.41,467.94 L1029.66,467.66 L1029.90,467.38 L1030.14,467.08 L1030.39,466.78 L1030.63,466.46 L1030.88,466.13 L1031.12,465.79 L1031.36,465.44 L1031.61,465.08 L1031.85,464.71 L1032.10,464.34 L1032.34,463.95 L1032.58,463.55 L1032.83,463.14 L1033.07,462.72 L1033.32,462.29 L1033.56,461.85 L1033.80,461.40 L1034.05,460.94 L1034.29,460.47 L1034.54,459.99 L1034.78,459.50 L1035.02,459.00 L1035.27,458.49 L1035.51,457.97 L1035.76,457.45 L1036.00,456.91 L1036.24,456.36 L1036.49,455.81 L1036.73,455.24 L1036.98,454.67 L1037.22,454.09 L1037.46,453.50 L1037.71,452.90 L1037.95,452.29 L1038.20,451.67 L1038.44,451.04 L1038.68,450.41 L1038.93,449.77 L1039.17,449.11 L1039.42,448.45 L1039.66,447.79 L1039.90,447.11 L1040.15,446.42 L1040.39,445.73 L1040.64,445.03 L1040.88,444.32 L1041.12,443.61 L1041.37,442.88 L1041.61,442.15 L1041.86,441.41 L1042.10,440.66 L1042.34,439.91 L1042.59,439.15 L1042.83,438.38 L1043.08,437.61 L1043.32,436.82 L1043.56,436.03 L1043.81,435.24 L1044.05,434.43 L1044.30,433.62 L1044.54,432.81 L1044.78,431.98 L1045.03,431.16 L1045.27,430.32 L1045.52,429.48 L1045.76,428.63 L1046.00,427.78 L1046.25,426.92 L1046.49,426.05 L1046.74,425.18 L1046.98,424.30 L1047.22,423.42 L1047.47,422.53 L1047.71,421.64 L1047.96,420.74 L1048.20,419.84 L1048.44,418.93 L1048.69,418.02 L1048.93,417.10 L1049.18,416.18 L1049.42,415.25 L1049.66,414.32 L1049.91,413.38 L1050.15,412.44 L1050.40,411.49 L1050.64,410.55 L1050.88,409.59 L1051.13,408.63 L1051.37,407.67 L1051.62,406.71 L1051.86,405.74 L1052.10,404.77 L1052.35,403.79 L1052.59,402.81 L1052.84,401.83 L1053.08,400.85 L1053.32,399.86 L1053.57,398.87 L1053.81,397.87 L1054.06,396.87 L1054.30,395.87 L1054.54,394.87 L1054.79,393.87 L1055.03,392.86 L1055.28,391.85 L1055.52,390.84 L1055.76,389.82 L1056.01,388.81 L1056.25,387.79 L1056.50,386.77 L1056.74,385.75 L1056.99,384.73 L1057.23,383.70 L1057.47,382.68 L1057.72,381.65 L1057.96,380.62 L1058.21,379.59 L1058.45,378.56 L1058.69,377.53 L1058.94,376.50 L1059.18,375.47 L1059.43,374.43 L1059.67,373.40 L1059.91,372.36 L1060.16,371.33 L1060.40,370.29 L1060.65,369.26 L1060.89,368.22 L1061.13,367.18 L1061.38,366.15 L1061.62,365.11 L1061.87,364.08 L1062.11,363.04 L1062.35,362.01 L1062.60,360.97 L1062.84,359.94 L1063.09,358.90 L1063.33,357.87 L1063.57,356.84 L1063.82,355.81 L1064.06,354.78 L1064.31,353.75 L1064.55,352.72 L1064.79,351.69 L1065.04,350.67 L1065.28,349.64 L1065.53,348.62 L1065.77,347.60 L1066.01,346.58 L1066.26,345.56 L1066.50,344.54 L1066.75,343.53 L1066.99,342.52 L1067.23,341.50 L1067.48,340.50 L1067.72,339.49 L1067.97,338.48 L1068.21,337.48 L1068.45,336.48 L1068.70,335.48 L1068.94,334.48 L1069.19,333.49 L1069.43,332.50 L1069.67,331.51 L1069.92,330.52 L1070.16,329.54 L1070.41,328.56 L1070.65,327.58 L1070.89,326.60 L1071.14,325.63 L1071.38,324.66 L1071.63,323.69 L1071.87,322.73 L1072.11,321.77 L1072.36,320.81 L1072.60,319.85 L1072.85,318.90 L1073.09,317.95 L1073.33,317.01 L1073.58,316.06 L1073.82,315.13 L1074.07,314.19 L1074.31,313.26 L1074.55,312.33 L1074.80,311.40 L1075.04,310.48 L1075.29,309.56 L1075.53,308.64 L1075.77,307.73 L1076.02,306.82 L1076.26,305.92 L1076.51,305.01 L1076.75,304.12 L1076.99,303.22 L1077.24,302.33 L1077.48,301.44 L1077.73,300.56 L1077.97,299.68 L1078.21,298.80 L1078.46,297.93 L1078.70,297.06 L1078.95,296.19 L1079.19,295.33 L1079.43,294.47 L1079.68,293.61 L1079.92,292.76 L1080.17,291.91 L1080.41,291.07 L1080.65,290.22 L1080.90,289.39 L1081.14,288.55 L1081.39,287.72 L1081.63,286.89 L1081.87,286.07 L1082.12,285.25 L1082.36,284.43 L1082.61,283.62 L1082.85,282.81 L1083.09,282.00 L1083.34,281.19 L1083.58,280.39 L1083.83,279.60 L1084.07,278.80 L1084.31,278.01 L1084.56,277.22 L1084.80,276.43 L1085.05,275.65 L1085.29,274.87 L1085.53,274.09 L1085.78,273.32 L1086.02,272.55 L1086.27,271.78 L1086.51,271.01 L1086.75,270.25 L1087.00,269.49 L1087.24,268.73 L1087.49,267.97 L1087.73,267.22 L1087.97,266.47 L1088.22,265.71 L1088.46,264.97 L1088.71,264.22 L1088.95,263.48 L1089.20,262.73 L1089.44,261.99 L1089.68,261.25 L1089.93,260.51 L1090.17,259.78 L1090.42,259.04 L1090.66,258.31 L1090.90,257.57 L1091.15,256.84 L1091.39,256.11 L1091.64,255.38 L1091.88,254.64 L1092.12,253.91 L1092.37,253.18 L1092.61,252.45 L1092.86,251.72 L1093.10,250.99 L1093.34,250.26 L1093.59,249.53 L1093.83,248.80 L1094.08,248.07 L1094.32,247.34 L1094.56,246.61 L1094.81,245.87 L1095.05,245.14 L1095.30,244.40 L1095.54,243.66 L1095.78,242.92 L1096.03,242.18 L1096.27,241.43" stroke="#ebb42a" stroke-width="2.8"/>
<path d="M1098.14,24.65 L1098.45,26.25 L1098.75,27.84 L1099.06,29.42 L1099.38,30.99 L1099.69,32.55 L1100.00,34.10 L1100.32,35.64 L1100.63,37.17 L1100.95,38.70 L1101.27,40.21 L1101.59,41.71 L1101.91,43.21 L1102.23,44.70 L1102.55,46.18 L1102.88,47.64 L1103.20,49.11 L1103.53,50.56 L1103.86,52.00 L1104.19,53.44 L1104.52,54.86 L1104.85,56.28 L1105.18,57.69 L1105.52,59.09 L1105.85,60.48 L1106.19,61.87 L1106.53,63.25 L1106.87,64.62 L1107.21,65.98 L1107.55,67.33 L1107.89,68.68 L1108.24,70.02 L1108.58,71.35 L1108.93,72.67 L1109.28,73.99 L1109.63,75.29 L1109.98,76.59 L1110.33,77.89 L1110.69,79.17 L1111.04,80.45 L1111.40,81.73 L1111.75,82.99 L1112.11,84.25 L1112.47,85.50 L1112.84,86.74 L1113.20,87.98 L1113.56,89.21 L1113.93,90.44 L1114.30,91.65 L1114.67,92.86 L1115.04,94.07 L1115.41,95.26 L1115.78,96.45 L1116.15,97.64 L1116.53,98.82 L1116.91,99.99 L1117.29,101.15 L1117.67,102.31 L1118.05,103.47 L1118.43,104.61 L1118.81,105.75 L1119.20,106.89 L1119.59,108.02 L1119.98,109.14 L1120.37,110.26 L1120.76,111.37 L1121.15,112.47 L1121.54,113.57 L1121.94,114.67 L1122.34,115.75 L1122.74,116.84 L1123.14,117.91 L1123.54,118.99 L1123.94,120.05 L1124.35,121.11 L1124.75,122.17 L1125.16,123.22 L1125.57,124.26 L1125.98,125.30 L1126.40,126.33 L1126.81,127.36 L1127.23,128.38 L1127.64,129.40 L1128.06,130.41 L1128.48,131.42 L1128.91,132.43 L1129.33,133.42 L1129.75,134.42 L1130.18,135.40 L1130.61,136.39 L1131.04,137.36 L1131.47,138.34 L1131.90,139.31 L1132.34,140.27 L1132.78,141.23 L1133.22,142.18 L1133.66,143.13 L1134.10,144.08 L1134.54,145.02 L1134.98,145.95 L1135.43,146.88 L1135.88,147.81 L1136.33,148.73 L1136.78,149.65 L1137.24,150.56 L1137.69,151.47 L1138.15,152.37 L1138.61,153.27 L1139.07,154.17 L1139.53,155.06 L1139.99,155.95 L1140.46,156.83 L1140.92,157.71 L1141.39,158.58 L1141.86,159.45 L1142.34,160.32 L1142.81,161.18 L1143.29,162.03 L1143.77,162.89 L1144.25,163.74 L1144.73,164.58 L1145.21,165.42 L1145.70,166.26 L1146.18,167.09 L1146.67,167.92 L1147.16,168.75 L1147.65,169.57 L1148.15,170.39 L1148.65,171.20 L1149.14,172.01 L1149.64,172.82 L1150.15,173.62 L1150.65,174.42 L1151.15,175.21 L1151.66,176.00 L1152.17,176.79 L1152.68,177.57 L1153.20,178.35 L1153.71,179.13 L1154.23,179.90 L1154.75,180.67 L1155.27,181.44 L1155.79,182.20 L1156.32,182.96 L1156.84,183.71 L1157.37,184.46 L1157.90,185.21 L1158.44,185.95 L1158.97,186.70 L1159.51,187.43 L1160.05,188.17 L1160.59,188.90 L1161.13,189.62 L1161.68,190.35 L1162.23,191.07 L1162.78,191.78 L1163.33,192.50 L1163.88,193.21 L1164.44,193.91 L1164.99,194.62 L1165.55,195.32 L1166.12,196.01 L1166.68,196.71 L1167.25,197.39 L1167.81,198.08 L1168.38,198.77 L1168.96,199.45 L1169.53,200.12 L1170.11,200.80 L1170.69,201.47 L1171.27,202.13 L1171.85,202.80 L1172.44,203.46 L1173.03,204.12 L1173.62,204.77 L1174.21,205.42 L1174.80,206.07 L1175.40,206.72 L1176.00,207.36 L1176.60,208.00 L1177.20,208.64 L1177.81,209.27 L1178.42,209.90 L1179.03,210.53 L1179.64,211.15 L1180.25,211.77 L1180.87,212.39 L1181.49,213.01 L1182.11,213.62 L1182.74,214.23 L1183.36,214.83 L1183.99,215.44 L1184.62,216.04 L1185.26,216.64 L1185.89,217.23 L1186.53,217.82 L1187.17,218.41 L1187.82,219.00 L1188.46,219.58 L1189.11,220.16 L1189.76,220.74 L1190.42,221.31 L1191.07,221.88 L1191.73,222.45 L1192.39,223.02 L1193.05,223.58 L1193.72,224.14 L1194.39,224.70 L1195.06,225.25 L1195.73,225.80 L1196.41,226.35 L1197.08,226.90 L1197.76,227.44 L1198.45,227.98 L1199.13,228.52 L1199.82,229.06 L1200.51,229.59 L1201.21,230.12 L1201.90,230.64 L1202.60,231.17 L1203.30,231.69 L1204.01,232.21 L1204.72,232.73 L1205.42,233.24 L1206.14,233.75 L1206.85,234.26 L1207.57,234.76 L1208.29,235.27 L1209.01,235.77 L1209.74,236.26 L1210.47,236.76 L1211.20,237.25 L1211.93,237.74 L1212.67,238.23 L1213.41,238.71 L1214.15,239.19 L1214.90,239.67 L1215.64,240.15 L1216.39,240.63 L1217.15,241.10 L1217.90,241.57 L1218.66,242.03 L1219.43,242.50 L1220.19,242.96 L1220.96,243.42 L1221.73,243.87 L1222.50,244.33 L1223.28,244.78 L1224.06,245.23 L1224.84,245.67 L1225.63,246.12 L1226.41,246.56 L1227.21,247.00 L1228.00,247.43 L1228.80,247.87 L1229.60,248.30 L1230.40,248.73 L1231.21,249.15 L1232.02,249.58 L1232.83,250.00 L1233.64,250.42 L1234.46,250.83 L1235.28,251.25 L1236.11,251.66 L1236.94,252.07 L1237.77,252.48 L1238.60,252.88 L1239.44,253.28 L1240.28,253.68 L1241.12,254.08 L1241.97,254.48 L1242.82,254.87 L1243.67,255.26 L1244.53,255.65 L1245.39,256.04 L1246.25,256.42 L1247.12,256.80 L1247.99,257.18 L1248.86,257.56 L1249.74,257.93 L1250.62,258.30 L1251.50,258.67 L1252.38,259.04 L1253.27,259.40 L1254.17,259.77 L1255.06,260.13 L1255.96,260.49 L1256.86,260.84 L1257.77,261.20 L1258.68,261.55 L1259.59,261.90 L1260.51,262.24 L1261.43,262.59 L1262.35,262.93 L1263.28,263.27 L1264.21,263.61 L1265.14,263.95 L1266.08,264.28 L1267.02,264.61 L1267.97,264.94 L1268.91,265.27 L1269.86,265.60 L1270.82,265.92 L1271.78,266.24 L1272.74,266.56 L1273.71,266.88 L1274.68,267.19 L1275.65,267.50 L1276.63,267.82 L1277.61,268.12 L1278.59,268.43 L1279.58,268.74 L1280.57,269.04 L1281.57,269.34 L1282.57,269.64 L1283.57,269.93 L1284.58,270.23 L1285.59,270.52 L1286.60,270.81 L1287.62,271.10 L1288.64,271.38 L1289.67,271.67 L1290.70,271.95 L1291.73,272.23 L1292.77,272.51 L1293.81,272.79 L1294.85,273.06 L1295.90,273.33 L1296.96,273.60 L1298.01,273.87 L1299.08,274.14 L1300.14,274.41 L1301.21,274.67 L1302.28,274.93 L1303.36,275.19 L1304.44,275.45 L1305.53,275.70 L1306.62,275.96 L1307.71,276.21 L1308.81,276.46 L1309.91,276.71 L1311.02,276.95 L1312.13,277.20 L1313.24,277.44 L1314.36,277.68 L1315.48,277.92 L1316.61,278.16 L1317.74,278.39 L1318.88,278.63 L1320.02,278.86 L1321.16,279.09 L1322.31,279.32 L1323.46,279.55 L1324.62,279.77 L1325.78,280.00 L1326.95,280.22 L1328.12,280.44 L1329.29,280.66 L1330.47,280.88 L1331.65,281.09 L1332.84,281.31 L1334.03,281.52 L1335.23,281.73 L1336.43,281.94 L1337.64,282.14 L1338.85,282.35 L1340.06,282.56 L1341.28,282.76 L1342.51,282.96 L1343.74,283.16 L1344.97,283.36 L1346.21,283.55 L1347.45,283.75 L1348.70,283.94 L1349.95,284.14 L1351.21,284.33 L1352.47,284.52 L1353.74,284.70 L1355.01,284.89 L1356.28,285.07 L1357.57,285.26 L1358.85,285.44 L1360.14,285.62 L1361.44,285.80 L1362.74,285.98 L1364.04,286.16 L1365.35,286.33 L1366.67,286.50 L1367.99,286.68 L1369.31,286.85 L1370.64,287.02 L1371.98,287.19 L1373.32,287.35 L1374.66,287.52 L1376.01,287.68 L1377.37,287.85 L1378.73,288.01 L1380.09,288.17 L1381.47,288.33 L1382.84,288.49 L1384.22,288.65 L1385.61,288.80 L1387.00,288.96 L1388.40,289.11 L1389.80,289.26 L1391.21,289.42 L1392.62,289.57 L1394.04,289.72 L1395.46,289.86 L1396.89,290.01 L1398.32,290.16 L1399.76,290.30 L1401.21,290.44 L1402.66,290.59 L1404.11,290.73 L1405.57,290.87 L1407.04,291.01 L1408.51,291.15 L1409.99,291.28 L1411.47,291.42 L1412.96,291.56 L1414.46,291.69 L1415.96,291.82 L1417.46,291.96 L1418.97,292.09 L1420.49,292.22 L1422.01,292.35 L1423.54,292.48 L1425.08,292.60 L1426.62,292.73 L1428.16,292.86 L1429.71,292.98 L1431.27,293.10 L1432.84,293.23 L1434.41,293.35 L1435.98,293.47 L1437.56,293.59 L1439.15,293.71 L1440.74,293.83 L1442.34,293.95 L1443.95,294.07 L1445.56,294.18 L1447.18,294.30 L1448.80,294.42 L1450.43,294.53 L1452.06,294.64 L1453.71,294.76 L1455.36,294.87 L1457.01,294.98 L1458.67,295.09 L1460.34,295.20 L1462.01,295.31 L1463.69,295.42 L1465.38,295.53 L1467.07,295.63 L1468.77,295.74 L1470.47,295.85 L1472.18,295.95 L1473.90,296.06 L1475.62,296.16 L1477.35,296.26 L1479.09,296.37 L1480.84,296.47 L1482.59,296.57 L1484.34,296.67 L1486.11,296.77 L1487.88,296.87 L1489.65,296.97 L1491.44,297.07 L1493.23,297.17 L1495.03,297.27 L1496.83,297.36 L1498.64,297.46 L1500.46,297.56 L1502.28,297.65 L1504.11,297.75 L1505.95,297.84 L1507.80,297.94 L1509.65,298.03 L1511.51,298.12 L1513.37,298.22 L1515.25,298.31 L1517.13,298.40 L1519.01,298.49 L1520.91,298.58 L1522.81,298.67 L1524.72,298.76 L1526.63,298.85 L1528.56,298.94 L1530.49,299.03 L1532.42,299.12 L1534.37,299.21 L1536.32,299.30 L1538.28,299.38 L1540.25,299.47 L1542.22,299.56 L1544.20,299.64 L1546.19,299.73 L1548.19,299.81 L1550.19,299.90 L1552.21,299.98 L1554.23,300.07 L1556.25,300.15 L1558.29,300.23 L1560.33,300.32 L1562.38,300.40 L1564.44,300.48 L1566.50,300.56 L1568.58,300.64 L1570.66,300.72 L1572.75,300.81 L1574.84,300.89 L1576.95,300.97 L1579.06,301.05 L1581.18,301.13 L1583.31,301.20 L1585.45,301.28 L1587.59,301.36 L1589.75,301.44 L1591.91,301.52 L1594.08,301.59 L1596.25,301.67 L1598.44,301.75 L1600.63,301.82 L1602.83,301.90 L1605.04,301.97 L1607.26,302.05 L1609.49,302.12 L1611.72,302.20 L1613.97,302.27 L1616.22,302.34 L1618.48,302.42 L1620.75,302.49 L1623.03,302.56 L1625.32,302.63 L1627.61,302.71 L1629.91,302.78 L1632.23,302.85 L1634.55,302.92 L1636.88,302.99 L1639.22,303.06 L1641.56,303.13 L1643.92,303.19 L1646.28,303.26 L1648.66,303.33 L1651.04,303.40 L1653.43,303.46 L1655.84,303.53 L1658.25,303.60 L1660.66,303.66 L1663.09,303.72 L1665.53,303.79 L1667.98,303.85 L1670.43,303.91 L1672.90,303.98 L1675.37,304.04 L1677.86,304.10 L1680.35,304.16 L1682.85,304.22 L1685.36,304.28 L1687.88,304.34 L1690.42,304.40 L1692.96,304.45 L1695.51,304.51 L1698.07,304.57 L1700.64,304.62 L1703.21,304.68 L1705.80,304.73 L1708.40,304.78 L1711.01,304.84 L1713.63,304.89 L1716.26,304.94 L1718.89,304.99 L1721.54,305.04 L1724.20,305.09 L1726.87,305.13 L1729.54,305.18 L1732.23,305.23 L1734.93,305.27 L1737.64,305.31 L1740.36,305.36 L1743.09,305.40 L1745.83,305.44 L1748.57,305.48 L1751.33,305.52 L1754.10,305.55 L1756.88,305.59 L1759.68,305.63 L1762.48,305.66 L1765.29,305.69 L1768.11,305.72 L1770.95,305.75 L1773.79,305.78 L1776.64,305.81 L1779.51,305.84 L1782.39,305.86 L1785.27,305.89 L1788.17,305.91 L1791.08,305.93 L1794.00,305.95" stroke="#ebb42a" stroke-width="2.8"/>
<path d="M1096.27,241.57 L1098.14,24.08" stroke="#ebb42a" stroke-width="2" stroke-dasharray="3.7 5.2"/>
<path d="M1025.05,471.50 L1025.26,471.50 L1025.47,471.43 L1025.68,471.37 L1025.89,471.31 L1026.10,471.24 L1026.30,471.17 L1026.51,471.11 L1026.72,471.04 L1026.93,470.97 L1027.14,470.89 L1027.35,470.82 L1027.56,470.74 L1027.76,470.67 L1027.97,470.59 L1028.18,470.51 L1028.39,470.43 L1028.60,470.34 L1028.81,470.25 L1029.01,470.17 L1029.22,470.07 L1029.43,469.98 L1029.64,469.89 L1029.85,469.79 L1030.06,469.69 L1030.27,469.58 L1030.47,469.48 L1030.68,469.37 L1030.89,469.26 L1031.10,469.15 L1031.31,469.03 L1031.52,468.92 L1031.73,468.79 L1031.93,468.67 L1032.14,468.54 L1032.35,468.41 L1032.56,468.28 L1032.77,468.15 L1032.98,468.01 L1033.19,467.87 L1033.39,467.72 L1033.60,467.57 L1033.81,467.42 L1034.02,467.27 L1034.23,467.11 L1034.44,466.95 L1034.65,466.78 L1034.85,466.62 L1035.06,466.45 L1035.27,466.27 L1035.48,466.09 L1035.69,465.91 L1035.90,465.73 L1036.11,465.54 L1036.31,465.35 L1036.52,465.15 L1036.73,464.95 L1036.94,464.75 L1037.15,464.54 L1037.36,464.33 L1037.57,464.12 L1037.77,463.90 L1037.98,463.68 L1038.19,463.45 L1038.40,463.23 L1038.61,462.99 L1038.82,462.76 L1039.03,462.52 L1039.23,462.27 L1039.44,462.02 L1039.65,461.77 L1039.86,461.51 L1040.07,461.25 L1040.28,460.99 L1040.48,460.72 L1040.69,460.45 L1040.90,460.18 L1041.11,459.90 L1041.32,459.61 L1041.53,459.32 L1041.74,459.03 L1041.94,458.74 L1042.15,458.44 L1042.36,458.13 L1042.57,457.83 L1042.78,457.52 L1042.99,457.20 L1043.20,456.88 L1043.40,456.56 L1043.61,456.23 L1043.82,455.90 L1044.03,455.56 L1044.24,455.22 L1044.45,454.88 L1044.66,454.53 L1044.86,454.18 L1045.07,453.82 L1045.28,453.46 L1045.49,453.10 L1045.70,452.73 L1045.91,452.36 L1046.12,451.98 L1046.32,451.60 L1046.53,451.22 L1046.74,450.83 L1046.95,450.44 L1047.16,450.04 L1047.37,449.64 L1047.58,449.24 L1047.78,448.83 L1047.99,448.42 L1048.20,448.00 L1048.41,447.58 L1048.62,447.16 L1048.83,446.73 L1049.04,446.30 L1049.24,445.87 L1049.45,445.43 L1049.66,444.99 L1049.87,444.54 L1050.08,444.09 L1050.29,443.64 L1050.50,443.18 L1050.70,442.72 L1050.91,442.25 L1051.12,441.79 L1051.33,441.31 L1051.54,440.84 L1051.75,440.36 L1051.96,439.87 L1052.16,439.39 L1052.37,438.90 L1052.58,438.40 L1052.79,437.91 L1053.00,437.40 L1053.21,436.90 L1053.41,436.39 L1053.62,435.88 L1053.83,435.37 L1054.04,434.85 L1054.25,434.33 L1054.46,433.80 L1054.67,433.27 L1054.87,432.74 L1055.08,432.20 L1055.29,431.67 L1055.50,431.12 L1055.71,430.58 L1055.92,430.03 L1056.13,429.48 L1056.33,428.93 L1056.54,428.37 L1056.75,427.81 L1056.96,427.25 L1057.17,426.68 L1057.38,426.11 L1057.59,425.54 L1057.79,424.96 L1058.00,424.38 L1058.21,423.80 L1058.42,423.22 L1058.63,422.63 L1058.84,422.04 L1059.05,421.45 L1059.25,420.85 L1059.46,420.26 L1059.67,419.66 L1059.88,419.05 L1060.09,418.45 L1060.30,417.84 L1060.51,417.23 L1060.71,416.61 L1060.92,416.00 L1061.13,415.38 L1061.34,414.76 L1061.55,414.13 L1061.76,413.51 L1061.97,412.88 L1062.17,412.25 L1062.38,411.62 L1062.59,410.98 L1062.80,410.35 L1063.01,409.71 L1063.22,409.06 L1063.43,408.42 L1063.63,407.78 L1063.84,407.13 L1064.05,406.48 L1064.26,405.83 L1064.47,405.17 L1064.68,404.52 L1064.88,403.86 L1065.09,403.20 L1065.30,402.54 L1065.51,401.88 L1065.72,401.21 L1065.93,400.55 L1066.14,399.88 L1066.34,399.21 L1066.55,398.54 L1066.76,397.86 L1066.97,397.19 L1067.18,396.51 L1067.39,395.84 L1067.60,395.16 L1067.80,394.48 L1068.01,393.80 L1068.22,393.11 L1068.43,392.43 L1068.64,391.74 L1068.85,391.06 L1069.06,390.37 L1069.26,389.68 L1069.47,388.99 L1069.68,388.30 L1069.89,387.60 L1070.10,386.91 L1070.31,386.21 L1070.52,385.52 L1070.72,384.82 L1070.93,384.12 L1071.14,383.43 L1071.35,382.73 L1071.56,382.03 L1071.77,381.33 L1071.98,380.62 L1072.18,379.92 L1072.39,379.22 L1072.60,378.51 L1072.81,377.81 L1073.02,377.10 L1073.23,376.40 L1073.44,375.69 L1073.64,374.98 L1073.85,374.28 L1074.06,373.57 L1074.27,372.86 L1074.48,372.15 L1074.69,371.44 L1074.90,370.73 L1075.10,370.02 L1075.31,369.31 L1075.52,368.60 L1075.73,367.89 L1075.94,367.18 L1076.15,366.47 L1076.36,365.76 L1076.56,365.04 L1076.77,364.33 L1076.98,363.62 L1077.19,362.91 L1077.40,362.20 L1077.61,361.48 L1077.81,360.77 L1078.02,360.06 L1078.23,359.35 L1078.44,358.64 L1078.65,357.92 L1078.86,357.21 L1079.07,356.50 L1079.27,355.79 L1079.48,355.08 L1079.69,354.37 L1079.90,353.66 L1080.11,352.95 L1080.32,352.24 L1080.53,351.53 L1080.73,350.82 L1080.94,350.11 L1081.15,349.40 L1081.36,348.69 L1081.57,347.98 L1081.78,347.27 L1081.99,346.56 L1082.19,345.86 L1082.40,345.15 L1082.61,344.44 L1082.82,343.74 L1083.03,343.03 L1083.24,342.33 L1083.45,341.62 L1083.65,340.92 L1083.86,340.22 L1084.07,339.52 L1084.28,338.81 L1084.49,338.11 L1084.70,337.41 L1084.91,336.71 L1085.11,336.01 L1085.32,335.31 L1085.53,334.61 L1085.74,333.91 L1085.95,333.22 L1086.16,332.52 L1086.37,331.83 L1086.57,331.13 L1086.78,330.44 L1086.99,329.74 L1087.20,329.05 L1087.41,328.36" stroke="#d8561f" stroke-width="2.8"/>
<path d="M1092.07,164.25 L1092.37,165.06 L1092.66,165.85 L1092.96,166.64 L1093.26,167.41 L1093.56,168.18 L1093.86,168.94 L1094.16,169.69 L1094.46,170.43 L1094.77,171.17 L1095.07,171.89 L1095.38,172.61 L1095.69,173.32 L1095.99,174.03 L1096.30,174.72 L1096.62,175.41 L1096.93,176.09 L1097.24,176.76 L1097.56,177.43 L1097.87,178.09 L1098.19,178.74 L1098.51,179.39 L1098.83,180.03 L1099.15,180.66 L1099.47,181.28 L1099.79,181.90 L1100.12,182.52 L1100.45,183.12 L1100.77,183.73 L1101.10,184.32 L1101.43,184.91 L1101.76,185.49 L1102.09,186.07 L1102.43,186.64 L1102.76,187.21 L1103.10,187.77 L1103.44,188.33 L1103.78,188.88 L1104.12,189.42 L1104.46,189.96 L1104.80,190.50 L1105.15,191.03 L1105.49,191.55 L1105.84,192.08 L1106.19,192.59 L1106.54,193.10 L1106.89,193.61 L1107.24,194.11 L1107.59,194.61 L1107.95,195.11 L1108.31,195.60 L1108.66,196.08 L1109.02,196.57 L1109.38,197.04 L1109.75,197.52 L1110.11,197.99 L1110.47,198.46 L1110.84,198.92 L1111.21,199.38 L1111.58,199.83 L1111.95,200.29 L1112.32,200.74 L1112.69,201.18 L1113.07,201.62 L1113.45,202.06 L1113.82,202.50 L1114.20,202.93 L1114.58,203.36 L1114.97,203.79 L1115.35,204.21 L1115.74,204.64 L1116.12,205.05 L1116.51,205.47 L1116.90,205.88 L1117.29,206.29 L1117.69,206.70 L1118.08,207.10 L1118.48,207.51 L1118.87,207.91 L1119.27,208.31 L1119.67,208.70 L1120.08,209.09 L1120.48,209.49 L1120.89,209.87 L1121.29,210.26 L1121.70,210.64 L1122.11,211.03 L1122.52,211.41 L1122.94,211.79 L1123.35,212.16 L1123.77,212.54 L1124.19,212.91 L1124.61,213.28 L1125.03,213.65 L1125.45,214.02 L1125.88,214.38 L1126.30,214.75 L1126.73,215.11 L1127.16,215.47 L1127.59,215.83 L1128.02,216.18 L1128.46,216.54 L1128.90,216.90 L1129.33,217.25 L1129.77,217.60 L1130.22,217.95 L1130.66,218.30 L1131.10,218.65 L1131.55,218.99 L1132.00,219.34 L1132.45,219.68 L1132.90,220.03 L1133.36,220.37 L1133.81,220.71 L1134.27,221.05 L1134.73,221.39 L1135.19,221.72 L1135.65,222.06 L1136.12,222.39 L1136.58,222.73 L1137.05,223.06 L1137.52,223.39 L1137.99,223.72 L1138.47,224.05 L1138.94,224.38 L1139.42,224.71 L1139.90,225.04 L1140.38,225.37 L1140.86,225.69 L1141.35,226.02 L1141.83,226.34 L1142.32,226.67 L1142.81,226.99 L1143.31,227.31 L1143.80,227.63 L1144.30,227.95 L1144.80,228.27 L1145.30,228.59 L1145.80,228.91 L1146.30,229.23 L1146.81,229.55 L1147.32,229.86 L1147.83,230.18 L1148.34,230.49 L1148.85,230.81 L1149.37,231.12 L1149.89,231.44 L1150.41,231.75 L1150.93,232.06 L1151.45,232.38 L1151.98,232.69 L1152.51,233.00 L1153.04,233.31 L1153.57,233.62 L1154.10,233.93 L1154.64,234.24 L1155.18,234.55 L1155.72,234.86 L1156.26,235.16 L1156.81,235.47 L1157.36,235.78 L1157.90,236.08 L1158.46,236.39 L1159.01,236.70 L1159.56,237.00 L1160.12,237.31 L1160.68,237.61 L1161.24,237.91 L1161.81,238.22 L1162.38,238.52 L1162.94,238.82 L1163.52,239.13 L1164.09,239.43 L1164.66,239.73 L1165.24,240.03 L1165.82,240.33 L1166.40,240.63 L1166.99,240.93 L1167.58,241.23 L1168.16,241.53 L1168.76,241.83 L1169.35,242.13 L1169.95,242.42 L1170.54,242.72 L1171.14,243.02 L1171.75,243.31 L1172.35,243.61 L1172.96,243.91 L1173.57,244.20 L1174.18,244.50 L1174.80,244.79 L1175.41,245.09 L1176.03,245.38 L1176.66,245.67 L1177.28,245.97 L1177.91,246.26 L1178.54,246.55 L1179.17,246.84 L1179.80,247.13 L1180.44,247.42 L1181.08,247.72 L1181.72,248.01 L1182.36,248.29 L1183.01,248.58 L1183.66,248.87 L1184.31,249.16 L1184.97,249.45 L1185.62,249.74 L1186.28,250.02 L1186.95,250.31 L1187.61,250.60 L1188.28,250.88 L1188.95,251.17 L1189.62,251.45 L1190.29,251.73 L1190.97,252.02 L1191.65,252.30 L1192.33,252.58 L1193.02,252.87 L1193.71,253.15 L1194.40,253.43 L1195.09,253.71 L1195.79,253.99 L1196.49,254.27 L1197.19,254.55 L1197.90,254.83 L1198.60,255.10 L1199.31,255.38 L1200.03,255.66 L1200.74,255.93 L1201.46,256.21 L1202.18,256.49 L1202.90,256.76 L1203.63,257.03 L1204.36,257.31 L1205.09,257.58 L1205.83,257.85 L1206.57,258.12 L1207.31,258.39 L1208.05,258.67 L1208.80,258.93 L1209.55,259.20 L1210.30,259.47 L1211.06,259.74 L1211.82,260.01 L1212.58,260.27 L1213.34,260.54 L1214.11,260.80 L1214.88,261.07 L1215.65,261.33 L1216.43,261.60 L1217.21,261.86 L1217.99,262.12 L1218.78,262.38 L1219.57,262.64 L1220.36,262.90 L1221.15,263.16 L1221.95,263.42 L1222.75,263.67 L1223.56,263.93 L1224.36,264.19 L1225.17,264.44 L1225.99,264.70 L1226.80,264.95 L1227.62,265.20 L1228.45,265.45 L1229.27,265.71 L1230.10,265.96 L1230.94,266.21 L1231.77,266.45 L1232.61,266.70 L1233.45,266.95 L1234.30,267.20 L1235.15,267.44 L1236.00,267.69 L1236.86,267.93 L1237.72,268.17 L1238.58,268.42 L1239.44,268.66 L1240.31,268.90 L1241.19,269.14 L1242.06,269.38 L1242.94,269.61 L1243.83,269.85 L1244.71,270.09 L1245.60,270.32 L1246.49,270.56 L1247.39,270.79 L1248.29,271.02 L1249.20,271.26 L1250.10,271.49 L1251.01,271.72 L1251.93,271.95 L1252.85,272.17 L1253.77,272.40 L1254.69,272.63 L1255.62,272.85 L1256.55,273.08 L1257.49,273.30 L1258.43,273.52 L1259.37,273.75 L1260.32,273.97 L1261.27,274.19 L1262.22,274.40 L1263.18,274.62 L1264.14,274.84 L1265.11,275.06 L1266.08,275.27 L1267.05,275.48 L1268.03,275.70 L1269.01,275.91 L1269.99,276.12 L1270.98,276.33 L1271.98,276.54 L1272.97,276.75 L1273.97,276.96 L1274.98,277.16 L1275.98,277.37 L1276.99,277.57 L1278.01,277.78 L1279.03,277.98 L1280.05,278.18 L1281.08,278.38 L1282.11,278.58 L1283.15,278.78 L1284.19,278.98 L1285.23,279.17 L1286.28,279.37 L1287.33,279.56 L1288.39,279.76 L1289.45,279.95 L1290.51,280.14 L1291.58,280.33 L1292.65,280.52 L1293.73,280.71 L1294.81,280.90 L1295.90,281.09 L1296.99,281.27 L1298.08,281.46 L1299.18,281.64 L1300.28,281.82 L1301.39,282.00 L1302.50,282.19 L1303.61,282.37 L1304.73,282.54 L1305.85,282.72 L1306.98,282.90 L1308.12,283.08 L1309.25,283.25 L1310.39,283.42 L1311.54,283.60 L1312.69,283.77 L1313.84,283.94 L1315.00,284.11 L1316.17,284.28 L1317.34,284.45 L1318.51,284.62 L1319.69,284.78 L1320.87,284.95 L1322.06,285.11 L1323.25,285.28 L1324.44,285.44 L1325.64,285.60 L1326.85,285.76 L1328.06,285.92 L1329.27,286.08 L1330.49,286.24 L1331.72,286.40 L1332.95,286.55 L1334.18,286.71 L1335.42,286.86 L1336.66,287.02 L1337.91,287.17 L1339.16,287.32 L1340.42,287.47 L1341.69,287.62 L1342.95,287.77 L1344.23,287.92 L1345.50,288.07 L1346.79,288.21 L1348.07,288.36 L1349.37,288.50 L1350.67,288.65 L1351.97,288.79 L1353.28,288.93 L1354.59,289.08 L1355.91,289.22 L1357.23,289.36 L1358.56,289.49 L1359.89,289.63 L1361.23,289.77 L1362.58,289.91 L1363.93,290.04 L1365.28,290.18 L1366.64,290.31 L1368.01,290.45 L1369.38,290.58 L1370.75,290.71 L1372.13,290.84 L1373.52,290.97 L1374.91,291.10 L1376.31,291.23 L1377.71,291.36 L1379.12,291.49 L1380.53,291.62 L1381.95,291.74 L1383.38,291.87 L1384.81,291.99 L1386.25,292.12 L1387.69,292.24 L1389.13,292.36 L1390.59,292.48 L1392.05,292.61 L1393.51,292.73 L1394.98,292.85 L1396.46,292.97 L1397.94,293.09 L1399.42,293.20 L1400.92,293.32 L1402.42,293.44 L1403.92,293.56 L1405.43,293.67 L1406.95,293.79 L1408.47,293.90 L1410.00,294.01 L1411.53,294.13 L1413.07,294.24 L1414.62,294.35 L1416.17,294.47 L1417.73,294.58 L1419.29,294.69 L1420.87,294.80 L1422.44,294.91 L1424.02,295.02 L1425.61,295.13 L1427.21,295.23 L1428.81,295.34 L1430.42,295.45 L1432.03,295.56 L1433.65,295.66 L1435.28,295.77 L1436.91,295.87 L1438.55,295.98 L1440.20,296.08 L1441.85,296.19 L1443.51,296.29 L1445.17,296.39 L1446.84,296.50 L1448.52,296.60 L1450.21,296.70 L1451.90,296.80 L1453.59,296.90 L1455.30,297.00 L1457.01,297.10 L1458.73,297.20 L1460.45,297.30 L1462.18,297.40 L1463.92,297.50 L1465.66,297.60 L1467.42,297.70 L1469.17,297.80 L1470.94,297.89 L1472.71,297.99 L1474.49,298.09 L1476.27,298.18 L1478.07,298.28 L1479.87,298.37 L1481.67,298.47 L1483.49,298.57 L1485.31,298.66 L1487.14,298.75 L1488.97,298.85 L1490.81,298.94 L1492.66,299.04 L1494.52,299.13 L1496.38,299.22 L1498.25,299.32 L1500.13,299.41 L1502.02,299.50 L1503.91,299.59 L1505.81,299.68 L1507.72,299.77 L1509.63,299.87 L1511.56,299.96 L1513.49,300.05 L1515.43,300.14 L1517.37,300.23 L1519.32,300.32 L1521.28,300.41 L1523.25,300.50 L1525.23,300.58 L1527.21,300.67 L1529.20,300.76 L1531.20,300.85 L1533.21,300.94 L1535.22,301.03 L1537.25,301.11 L1539.28,301.20 L1541.32,301.29 L1543.36,301.37 L1545.42,301.46 L1547.48,301.55 L1549.55,301.63 L1551.63,301.72 L1553.71,301.80 L1555.81,301.89 L1557.91,301.97 L1560.02,302.06 L1562.14,302.14 L1564.27,302.22 L1566.40,302.31 L1568.55,302.39 L1570.70,302.47 L1572.86,302.56 L1575.03,302.64 L1577.21,302.72 L1579.39,302.80 L1581.59,302.88 L1583.79,302.96 L1586.00,303.04 L1588.23,303.12 L1590.45,303.20 L1592.69,303.28 L1594.94,303.36 L1597.19,303.44 L1599.46,303.52 L1601.73,303.59 L1604.01,303.67 L1606.30,303.75 L1608.60,303.82 L1610.91,303.90 L1613.23,303.97 L1615.56,304.05 L1617.89,304.12 L1620.24,304.20 L1622.59,304.27 L1624.95,304.34 L1627.33,304.41 L1629.71,304.48 L1632.10,304.55 L1634.50,304.62 L1636.91,304.69 L1639.33,304.76 L1641.76,304.83 L1644.19,304.90 L1646.64,304.96 L1649.10,305.03 L1651.57,305.09 L1654.04,305.16 L1656.53,305.22 L1659.02,305.28 L1661.53,305.35 L1664.04,305.41 L1666.57,305.47 L1669.10,305.52 L1671.65,305.58 L1674.20,305.64 L1676.77,305.70 L1679.34,305.75 L1681.92,305.80 L1684.52,305.86 L1687.12,305.91 L1689.74,305.96 L1692.36,306.01 L1695.00,306.06 L1697.64,306.10 L1700.30,306.15 L1702.97,306.20 L1705.64,306.24 L1708.33,306.28 L1711.03,306.32 L1713.74,306.36 L1716.45,306.40 L1719.18,306.43 L1721.92,306.47 L1724.67,306.50 L1727.43,306.53 L1730.21,306.56 L1732.99,306.59 L1735.78,306.62 L1738.59,306.64 L1741.40,306.66 L1744.23,306.68 L1747.07,306.70 L1749.92,306.72 L1752.77,306.74 L1755.65,306.75 L1758.53,306.76 L1761.42,306.77 L1764.33,306.78 L1767.24,306.78 L1770.17,306.78 L1773.11,306.78 L1776.06,306.78 L1779.02,306.78 L1781.99,306.77 L1784.98,306.76 L1787.97,306.75 L1790.98,306.73 L1794.00,306.71" stroke="#d8561f" stroke-width="2.8"/>
<path d="M1087.41,328.31 L1092.07,163.76" stroke="#d8561f" stroke-width="2" stroke-dasharray="3.7 5.2"/>
<path d="M1025.05,471.50 L1025.21,471.50 L1025.37,471.50 L1025.52,471.49 L1025.68,471.48 L1025.84,471.47 L1025.99,471.46 L1026.15,471.44 L1026.31,471.43 L1026.47,471.41 L1026.62,471.39 L1026.78,471.37 L1026.94,471.35 L1027.09,471.33 L1027.25,471.31 L1027.41,471.28 L1027.57,471.26 L1027.72,471.23 L1027.88,471.20 L1028.04,471.17 L1028.19,471.14 L1028.35,471.11 L1028.51,471.08 L1028.66,471.04 L1028.82,471.01 L1028.98,470.97 L1029.14,470.93 L1029.29,470.89 L1029.45,470.85 L1029.61,470.81 L1029.76,470.77 L1029.92,470.73 L1030.08,470.68 L1030.24,470.64 L1030.39,470.59 L1030.55,470.54 L1030.71,470.49 L1030.86,470.44 L1031.02,470.39 L1031.18,470.34 L1031.33,470.28 L1031.49,470.23 L1031.65,470.17 L1031.81,470.12 L1031.96,470.06 L1032.12,470.00 L1032.28,469.94 L1032.43,469.88 L1032.59,469.81 L1032.75,469.75 L1032.91,469.69 L1033.06,469.62 L1033.22,469.55 L1033.38,469.49 L1033.53,469.42 L1033.69,469.35 L1033.85,469.28 L1034.00,469.20 L1034.16,469.13 L1034.32,469.06 L1034.48,468.98 L1034.63,468.90 L1034.79,468.83 L1034.95,468.75 L1035.10,468.67 L1035.26,468.59 L1035.42,468.50 L1035.58,468.42 L1035.73,468.34 L1035.89,468.25 L1036.05,468.16 L1036.20,468.08 L1036.36,467.99 L1036.52,467.90 L1036.67,467.81 L1036.83,467.72 L1036.99,467.62 L1037.15,467.53 L1037.30,467.43 L1037.46,467.34 L1037.62,467.24 L1037.77,467.14 L1037.93,467.04 L1038.09,466.94 L1038.25,466.83 L1038.40,466.73 L1038.56,466.63 L1038.72,466.52 L1038.87,466.41 L1039.03,466.30 L1039.19,466.19 L1039.34,466.08 L1039.50,465.97 L1039.66,465.86 L1039.82,465.74 L1039.97,465.63 L1040.13,465.51 L1040.29,465.39 L1040.44,465.27 L1040.60,465.15 L1040.76,465.03 L1040.92,464.91 L1041.07,464.78 L1041.23,464.65 L1041.39,464.53 L1041.54,464.40 L1041.70,464.27 L1041.86,464.14 L1042.02,464.00 L1042.17,463.87 L1042.33,463.73 L1042.49,463.60 L1042.64,463.46 L1042.80,463.32 L1042.96,463.18 L1043.11,463.04 L1043.27,462.89 L1043.43,462.75 L1043.59,462.60 L1043.74,462.45 L1043.90,462.31 L1044.06,462.16 L1044.21,462.00 L1044.37,461.85 L1044.53,461.69 L1044.69,461.54 L1044.84,461.38 L1045.00,461.22 L1045.16,461.06 L1045.31,460.90 L1045.47,460.73 L1045.63,460.57 L1045.78,460.40 L1045.94,460.23 L1046.10,460.06 L1046.26,459.89 L1046.41,459.72 L1046.57,459.54 L1046.73,459.37 L1046.88,459.19 L1047.04,459.01 L1047.20,458.83 L1047.36,458.65 L1047.51,458.46 L1047.67,458.28 L1047.83,458.09 L1047.98,457.90 L1048.14,457.71 L1048.30,457.52 L1048.45,457.33 L1048.61,457.13 L1048.77,456.93 L1048.93,456.74 L1049.08,456.54 L1049.24,456.33 L1049.40,456.13 L1049.55,455.93 L1049.71,455.72 L1049.87,455.51 L1050.03,455.30 L1050.18,455.09 L1050.34,454.87 L1050.50,454.66 L1050.65,454.44 L1050.81,454.22 L1050.97,454.00 L1051.12,453.78 L1051.28,453.56 L1051.44,453.33 L1051.60,453.11 L1051.75,452.88 L1051.91,452.65 L1052.07,452.41 L1052.22,452.18 L1052.38,451.94 L1052.54,451.71 L1052.70,451.47 L1052.85,451.22 L1053.01,450.98 L1053.17,450.74 L1053.32,450.49 L1053.48,450.24 L1053.64,449.99 L1053.79,449.74 L1053.95,449.49 L1054.11,449.23 L1054.27,448.98 L1054.42,448.72 L1054.58,448.46 L1054.74,448.19 L1054.89,447.93 L1055.05,447.67 L1055.21,447.40 L1055.37,447.13 L1055.52,446.86 L1055.68,446.59 L1055.84,446.31 L1055.99,446.03 L1056.15,445.76 L1056.31,445.48 L1056.46,445.20 L1056.62,444.91 L1056.78,444.63 L1056.94,444.34 L1057.09,444.05 L1057.25,443.76 L1057.41,443.47 L1057.56,443.18 L1057.72,442.88 L1057.88,442.59 L1058.04,442.29 L1058.19,441.99 L1058.35,441.69 L1058.51,441.38 L1058.66,441.08 L1058.82,440.77 L1058.98,440.46 L1059.13,440.15 L1059.29,439.84 L1059.45,439.53 L1059.61,439.21 L1059.76,438.90 L1059.92,438.58 L1060.08,438.26 L1060.23,437.94 L1060.39,437.61 L1060.55,437.29 L1060.71,436.96 L1060.86,436.64 L1061.02,436.31 L1061.18,435.98 L1061.33,435.64 L1061.49,435.31 L1061.65,434.98 L1061.80,434.64 L1061.96,434.30 L1062.12,433.96 L1062.28,433.62 L1062.43,433.28 L1062.59,432.94 L1062.75,432.59 L1062.90,432.25 L1063.06,431.90 L1063.22,431.55 L1063.38,431.20 L1063.53,430.85 L1063.69,430.50 L1063.85,430.14 L1064.00,429.79 L1064.16,429.43 L1064.32,429.08 L1064.47,428.72 L1064.63,428.36 L1064.79,428.00 L1064.95,427.64 L1065.10,427.27 L1065.26,426.91 L1065.42,426.55 L1065.57,426.18 L1065.73,425.81 L1065.89,425.45 L1066.05,425.08 L1066.20,424.71 L1066.36,424.34 L1066.52,423.97 L1066.67,423.59 L1066.83,423.22 L1066.99,422.85 L1067.14,422.47 L1067.30,422.10 L1067.46,421.72 L1067.62,421.35 L1067.77,420.97 L1067.93,420.59 L1068.09,420.22 L1068.24,419.84 L1068.40,419.46 L1068.56,419.08 L1068.72,418.70 L1068.87,418.32 L1069.03,417.94 L1069.19,417.56 L1069.34,417.18 L1069.50,416.80 L1069.66,416.42 L1069.81,416.04 L1069.97,415.66 L1070.13,415.28 L1070.29,414.89 L1070.44,414.51 L1070.60,414.13 L1070.76,413.75 L1070.91,413.37 L1071.07,412.99 L1071.23,412.61 L1071.39,412.23 L1071.54,411.85 L1071.70,411.47 L1071.86,411.09 L1072.01,410.71" stroke="#a31c21" stroke-width="2.8"/>
<path d="M1072.95,266.84 L1073.19,268.11 L1073.44,269.35 L1073.69,270.56 L1073.94,271.74 L1074.20,272.89 L1074.45,274.02 L1074.70,275.11 L1074.96,276.18 L1075.22,277.22 L1075.47,278.23 L1075.73,279.21 L1075.99,280.17 L1076.25,281.11 L1076.51,282.01 L1076.78,282.90 L1077.04,283.76 L1077.31,284.59 L1077.58,285.40 L1077.84,286.19 L1078.11,286.95 L1078.38,287.70 L1078.65,288.42 L1078.93,289.11 L1079.20,289.79 L1079.48,290.45 L1079.75,291.08 L1080.03,291.69 L1080.31,292.29 L1080.59,292.86 L1080.87,293.42 L1081.15,293.95 L1081.44,294.47 L1081.72,294.97 L1082.01,295.45 L1082.30,295.91 L1082.58,296.36 L1082.87,296.79 L1083.17,297.20 L1083.46,297.60 L1083.75,297.97 L1084.05,298.34 L1084.34,298.69 L1084.64,299.02 L1084.94,299.34 L1085.24,299.64 L1085.54,299.93 L1085.84,300.20 L1086.15,300.46 L1086.45,300.71 L1086.76,300.94 L1087.07,301.17 L1087.38,301.37 L1087.69,301.57 L1088.00,301.75 L1088.32,301.92 L1088.63,302.08 L1088.95,302.23 L1089.27,302.37 L1089.59,302.50 L1089.91,302.61 L1090.23,302.72 L1090.55,302.81 L1090.88,302.90 L1091.20,302.97 L1091.53,303.04 L1091.86,303.09 L1092.19,303.14 L1092.52,303.18 L1092.86,303.21 L1093.19,303.23 L1093.53,303.24 L1093.87,303.25 L1094.21,303.24 L1094.55,303.23 L1094.89,303.21 L1095.23,303.19 L1095.58,303.16 L1095.93,303.12 L1096.27,303.07 L1096.62,303.02 L1096.98,302.96 L1097.33,302.89 L1097.68,302.82 L1098.04,302.75 L1098.40,302.66 L1098.76,302.58 L1099.12,302.48 L1099.48,302.38 L1099.85,302.28 L1100.21,302.17 L1100.58,302.06 L1100.95,301.94 L1101.32,301.82 L1101.69,301.70 L1102.06,301.57 L1102.44,301.43 L1102.82,301.30 L1103.20,301.16 L1103.58,301.01 L1103.96,300.87 L1104.34,300.72 L1104.73,300.56 L1105.11,300.41 L1105.50,300.25 L1105.89,300.08 L1106.29,299.92 L1106.68,299.75 L1107.08,299.58 L1107.47,299.41 L1107.87,299.24 L1108.27,299.06 L1108.68,298.89 L1109.08,298.71 L1109.49,298.53 L1109.89,298.35 L1110.30,298.16 L1110.72,297.98 L1111.13,297.79 L1111.54,297.61 L1111.96,297.42 L1112.38,297.23 L1112.80,297.04 L1113.22,296.85 L1113.65,296.66 L1114.07,296.47 L1114.50,296.28 L1114.93,296.09 L1115.37,295.89 L1115.80,295.70 L1116.23,295.51 L1116.67,295.32 L1117.11,295.12 L1117.55,294.93 L1118.00,294.74 L1118.44,294.55 L1118.89,294.35 L1119.34,294.16 L1119.79,293.97 L1120.24,293.78 L1120.70,293.59 L1121.16,293.40 L1121.62,293.21 L1122.08,293.03 L1122.54,292.84 L1123.01,292.65 L1123.47,292.47 L1123.94,292.28 L1124.41,292.10 L1124.89,291.92 L1125.36,291.74 L1125.84,291.56 L1126.32,291.38 L1126.80,291.20 L1127.29,291.03 L1127.77,290.85 L1128.26,290.68 L1128.75,290.51 L1129.24,290.34 L1129.74,290.17 L1130.24,290.00 L1130.73,289.84 L1131.24,289.68 L1131.74,289.51 L1132.24,289.35 L1132.75,289.20 L1133.26,289.04 L1133.78,288.88 L1134.29,288.73 L1134.81,288.58 L1135.33,288.43 L1135.85,288.28 L1136.37,288.14 L1136.90,288.00 L1137.43,287.85 L1137.96,287.71 L1138.49,287.58 L1139.02,287.44 L1139.56,287.31 L1140.10,287.18 L1140.64,287.05 L1141.19,286.92 L1141.74,286.80 L1142.29,286.67 L1142.84,286.55 L1143.39,286.44 L1143.95,286.32 L1144.51,286.20 L1145.07,286.09 L1145.63,285.98 L1146.20,285.88 L1146.77,285.77 L1147.34,285.67 L1147.92,285.57 L1148.49,285.47 L1149.07,285.37 L1149.65,285.28 L1150.24,285.19 L1150.82,285.10 L1151.41,285.01 L1152.01,284.92 L1152.60,284.84 L1153.20,284.76 L1153.80,284.68 L1154.40,284.61 L1155.01,284.53 L1155.61,284.46 L1156.22,284.39 L1156.84,284.32 L1157.45,284.26 L1158.07,284.20 L1158.69,284.14 L1159.32,284.08 L1159.94,284.02 L1160.57,283.97 L1161.20,283.91 L1161.84,283.87 L1162.48,283.82 L1163.12,283.77 L1163.76,283.73 L1164.41,283.69 L1165.06,283.65 L1165.71,283.61 L1166.36,283.58 L1167.02,283.55 L1167.68,283.52 L1168.35,283.49 L1169.01,283.46 L1169.68,283.44 L1170.35,283.41 L1171.03,283.39 L1171.71,283.38 L1172.39,283.36 L1173.07,283.34 L1173.76,283.33 L1174.45,283.32 L1175.14,283.31 L1175.84,283.31 L1176.54,283.30 L1177.24,283.30 L1177.94,283.30 L1178.65,283.30 L1179.36,283.30 L1180.08,283.31 L1180.80,283.31 L1181.52,283.32 L1182.24,283.33 L1182.97,283.34 L1183.70,283.36 L1184.43,283.37 L1185.17,283.39 L1185.91,283.40 L1186.65,283.42 L1187.40,283.45 L1188.15,283.47 L1188.90,283.49 L1189.66,283.52 L1190.42,283.55 L1191.18,283.58 L1191.95,283.61 L1192.72,283.64 L1193.49,283.67 L1194.27,283.71 L1195.05,283.75 L1195.83,283.78 L1196.62,283.82 L1197.41,283.86 L1198.20,283.90 L1199.00,283.95 L1199.80,283.99 L1200.61,284.04 L1201.42,284.09 L1202.23,284.13 L1203.04,284.18 L1203.86,284.23 L1204.68,284.29 L1205.51,284.34 L1206.34,284.39 L1207.17,284.45 L1208.01,284.50 L1208.85,284.56 L1209.69,284.62 L1210.54,284.68 L1211.39,284.74 L1212.25,284.80 L1213.11,284.86 L1213.97,284.93 L1214.83,284.99 L1215.70,285.06 L1216.58,285.12 L1217.46,285.19 L1218.34,285.26 L1219.22,285.32 L1220.11,285.39 L1221.01,285.46 L1221.91,285.53 L1222.81,285.60 L1223.71,285.68 L1224.62,285.75 L1225.53,285.82 L1226.45,285.90 L1227.37,285.97 L1228.30,286.05 L1229.23,286.12 L1230.16,286.20 L1231.10,286.28 L1232.04,286.35 L1232.99,286.43 L1233.94,286.51 L1234.89,286.59 L1235.85,286.67 L1236.81,286.75 L1237.78,286.83 L1238.75,286.91 L1239.72,286.99 L1240.70,287.07 L1241.69,287.16 L1242.68,287.24 L1243.67,287.32 L1244.67,287.40 L1245.67,287.49 L1246.67,287.57 L1247.68,287.66 L1248.70,287.74 L1249.72,287.82 L1250.74,287.91 L1251.77,287.99 L1252.80,288.08 L1253.84,288.16 L1254.88,288.25 L1255.92,288.34 L1256.97,288.42 L1258.03,288.51 L1259.09,288.59 L1260.15,288.68 L1261.22,288.77 L1262.30,288.85 L1263.38,288.94 L1264.46,289.02 L1265.55,289.11 L1266.64,289.20 L1267.74,289.28 L1268.84,289.37 L1269.95,289.46 L1271.06,289.54 L1272.18,289.63 L1273.30,289.72 L1274.43,289.80 L1275.56,289.89 L1276.69,289.98 L1277.84,290.06 L1278.98,290.15 L1280.14,290.24 L1281.29,290.32 L1282.45,290.41 L1283.62,290.49 L1284.79,290.58 L1285.97,290.67 L1287.15,290.75 L1288.34,290.84 L1289.53,290.92 L1290.73,291.01 L1291.94,291.09 L1293.14,291.18 L1294.36,291.26 L1295.58,291.35 L1296.80,291.43 L1298.03,291.52 L1299.27,291.60 L1300.51,291.68 L1301.75,291.77 L1303.01,291.85 L1304.26,291.93 L1305.53,292.02 L1306.79,292.10 L1308.07,292.18 L1309.35,292.27 L1310.63,292.35 L1311.92,292.43 L1313.22,292.51 L1314.52,292.60 L1315.83,292.68 L1317.14,292.76 L1318.46,292.84 L1319.79,292.92 L1321.12,293.00 L1322.46,293.08 L1323.80,293.16 L1325.15,293.24 L1326.50,293.32 L1327.86,293.40 L1329.23,293.48 L1330.60,293.56 L1331.98,293.64 L1333.36,293.72 L1334.75,293.80 L1336.15,293.88 L1337.55,293.96 L1338.96,294.04 L1340.38,294.11 L1341.80,294.19 L1343.22,294.27 L1344.66,294.35 L1346.10,294.43 L1347.54,294.50 L1349.00,294.58 L1350.46,294.66 L1351.92,294.73 L1353.39,294.81 L1354.87,294.89 L1356.36,294.97 L1357.85,295.04 L1359.35,295.12 L1360.85,295.19 L1362.36,295.27 L1363.88,295.35 L1365.40,295.42 L1366.94,295.50 L1368.47,295.57 L1370.02,295.65 L1371.57,295.73 L1373.13,295.80 L1374.69,295.88 L1376.26,295.95 L1377.84,296.03 L1379.43,296.10 L1381.02,296.18 L1382.62,296.25 L1384.23,296.33 L1385.84,296.40 L1387.46,296.48 L1389.09,296.55 L1390.72,296.63 L1392.37,296.70 L1394.02,296.78 L1395.67,296.85 L1397.34,296.93 L1399.01,297.00 L1400.69,297.08 L1402.37,297.16 L1404.07,297.23 L1405.77,297.31 L1407.47,297.38 L1409.19,297.46 L1410.91,297.53 L1412.64,297.61 L1414.38,297.69 L1416.13,297.76 L1417.88,297.84 L1419.64,297.91 L1421.41,297.99 L1423.19,298.07 L1424.97,298.14 L1426.77,298.22 L1428.57,298.30 L1430.37,298.38 L1432.19,298.45 L1434.01,298.53 L1435.85,298.61 L1437.69,298.69 L1439.54,298.76 L1441.39,298.84 L1443.26,298.92 L1445.13,299.00 L1447.01,299.08 L1448.90,299.16 L1450.80,299.24 L1452.70,299.32 L1454.62,299.40 L1456.54,299.48 L1458.47,299.56 L1460.41,299.64 L1462.36,299.72 L1464.31,299.80 L1466.28,299.88 L1468.25,299.96 L1470.24,300.04 L1472.23,300.13 L1474.23,300.21 L1476.23,300.29 L1478.25,300.37 L1480.28,300.46 L1482.31,300.54 L1484.36,300.62 L1486.41,300.71 L1488.47,300.79 L1490.54,300.88 L1492.62,300.96 L1494.71,301.05 L1496.81,301.13 L1498.92,301.22 L1501.04,301.30 L1503.16,301.39 L1505.30,301.47 L1507.44,301.56 L1509.60,301.65 L1511.76,301.73 L1513.94,301.82 L1516.12,301.91 L1518.31,302.00 L1520.51,302.08 L1522.72,302.17 L1524.95,302.26 L1527.18,302.35 L1529.42,302.44 L1531.67,302.52 L1533.93,302.61 L1536.20,302.70 L1538.48,302.79 L1540.77,302.88 L1543.07,302.97 L1545.38,303.06 L1547.70,303.15 L1550.03,303.24 L1552.38,303.33 L1554.73,303.42 L1557.09,303.50 L1559.46,303.59 L1561.84,303.68 L1564.24,303.77 L1566.64,303.86 L1569.05,303.95 L1571.48,304.04 L1573.91,304.13 L1576.36,304.22 L1578.82,304.31 L1581.28,304.39 L1583.76,304.48 L1586.25,304.57 L1588.75,304.66 L1591.26,304.74 L1593.79,304.83 L1596.32,304.92 L1598.86,305.00 L1601.42,305.09 L1603.99,305.17 L1606.56,305.26 L1609.15,305.34 L1611.75,305.43 L1614.37,305.51 L1616.99,305.59 L1619.62,305.67 L1622.27,305.75 L1624.93,305.84 L1627.60,305.91 L1630.28,305.99 L1632.97,306.07 L1635.68,306.15 L1638.40,306.22 L1641.13,306.30 L1643.87,306.37 L1646.62,306.44 L1649.39,306.51 L1652.16,306.58 L1654.95,306.65 L1657.75,306.72 L1660.57,306.79 L1663.39,306.85 L1666.23,306.91 L1669.08,306.98 L1671.95,307.04 L1674.82,307.09 L1677.71,307.15 L1680.61,307.20 L1683.53,307.26 L1686.46,307.31 L1689.40,307.36 L1692.35,307.40 L1695.31,307.45 L1698.29,307.49 L1701.28,307.53 L1704.29,307.57 L1707.31,307.60 L1710.34,307.63 L1713.38,307.66 L1716.44,307.69 L1719.51,307.72 L1722.60,307.74 L1725.70,307.76 L1728.81,307.77 L1731.93,307.78 L1735.07,307.79 L1738.23,307.80 L1741.39,307.80 L1744.58,307.80 L1747.77,307.80 L1750.98,307.79 L1754.20,307.77 L1757.44,307.76 L1760.69,307.74 L1763.96,307.71 L1767.24,307.69 L1770.53,307.65 L1773.84,307.62 L1777.16,307.57 L1780.50,307.53 L1783.85,307.48 L1787.22,307.42 L1790.60,307.36 L1794.00,307.29" stroke="#a31c21" stroke-width="2.8"/>
<path d="M1072.01,410.72 L1072.95,265.81" stroke="#a31c21" stroke-width="2" stroke-dasharray="3.7 5.2"/>
</g>
<path d="M1016.5,0 L1016.5,481.5 L1794.5,481.5 L1794.5,0.5 L1016.5,0.5" stroke="#484848" stroke-width="1" fill="none"/>
<path d="M1016.50,481 L1016.50,476 M1047.60,481 L1047.60,478 M1047.60,1 L1047.60,4 M1078.70,481 L1078.70,478 M1078.70,1 L1078.70,4 M1109.80,481 L1109.80,478 M1109.80,1 L1109.80,4 M1140.90,481 L1140.90,478 M1140.90,1 L1140.90,4 M1172.00,481 L1172.00,476 M1172.00,1 L1172.00,6 M1203.10,481 L1203.10,478 M1203.10,1 L1203.10,4 M1234.20,481 L1234.20,478 M1234.20,1 L1234.20,4 M1265.30,481 L1265.30,478 M1265.30,1 L1265.30,4 M1296.40,481 L1296.40,478 M1296.40,1 L1296.40,4 M1327.50,481 L1327.50,476 M1327.50,1 L1327.50,6 M1358.60,481 L1358.60,478 M1358.60,1 L1358.60,4 M1389.70,481 L1389.70,478 M1389.70,1 L1389.70,4 M1420.80,481 L1420.80,478 M1420.80,1 L1420.80,4 M1451.90,481 L1451.90,478 M1451.90,1 L1451.90,4 M1483.00,481 L1483.00,476 M1483.00,1 L1483.00,6 M1514.10,481 L1514.10,478 M1514.10,1 L1514.10,4 M1545.20,481 L1545.20,478 M1545.20,1 L1545.20,4 M1576.30,481 L1576.30,478 M1576.30,1 L1576.30,4 M1607.40,481 L1607.40,478 M1607.40,1 L1607.40,4 M1638.50,481 L1638.50,476 M1638.50,1 L1638.50,6 M1669.60,481 L1669.60,478 M1669.60,1 L1669.60,4 M1700.70,481 L1700.70,478 M1700.70,1 L1700.70,4 M1731.80,481 L1731.80,478 M1731.80,1 L1731.80,4 M1762.90,481 L1762.90,478 M1762.90,1 L1762.90,4 M1794.00,481 L1794.00,476 M1016.5,471.50 L1021.5,471.50 M1794,471.50 L1789,471.50 M1016.5,455.56 L1019.5,455.56 M1794,455.56 L1791,455.56 M1016.5,439.61 L1019.5,439.61 M1794,439.61 L1791,439.61 M1016.5,423.67 L1019.5,423.67 M1794,423.67 L1791,423.67 M1016.5,407.72 L1021.5,407.72 M1794,407.72 L1789,407.72 M1016.5,391.77 L1019.5,391.77 M1794,391.77 L1791,391.77 M1016.5,375.83 L1019.5,375.83 M1794,375.83 L1791,375.83 M1016.5,359.88 L1019.5,359.88 M1794,359.88 L1791,359.88 M1016.5,343.94 L1021.5,343.94 M1794,343.94 L1789,343.94 M1016.5,328.00 L1019.5,328.00 M1794,328.00 L1791,328.00 M1016.5,312.05 L1019.5,312.05 M1794,312.05 L1791,312.05 M1016.5,296.11 L1019.5,296.11 M1794,296.11 L1791,296.11 M1016.5,280.16 L1021.5,280.16 M1794,280.16 L1789,280.16 M1016.5,264.22 L1019.5,264.22 M1794,264.22 L1791,264.22 M1016.5,248.27 L1019.5,248.27 M1794,248.27 L1791,248.27 M1016.5,232.33 L1019.5,232.33 M1794,232.33 L1791,232.33 M1016.5,216.38 L1021.5,216.38 M1794,216.38 L1789,216.38 M1016.5,200.44 L1019.5,200.44 M1794,200.44 L1791,200.44 M1016.5,184.49 L1019.5,184.49 M1794,184.49 L1791,184.49 M1016.5,168.55 L1019.5,168.55 M1794,168.55 L1791,168.55 M1016.5,152.60 L1021.5,152.60 M1794,152.60 L1789,152.60 M1016.5,136.66 L1019.5,136.66 M1794,136.66 L1791,136.66 M1016.5,120.71 L1019.5,120.71 M1794,120.71 L1791,120.71 M1016.5,104.76 L1019.5,104.76 M1794,104.76 L1791,104.76 M1016.5,88.82 L1021.5,88.82 M1794,88.82 L1789,88.82 M1016.5,72.88 L1019.5,72.88 M1794,72.88 L1791,72.88 M1016.5,56.93 L1019.5,56.93 M1794,56.93 L1791,56.93 M1016.5,40.99 L1019.5,40.99 M1794,40.99 L1791,40.99 M1016.5,25.04 L1021.5,25.04 M1794,25.04 L1789,25.04 M1016.5,9.09 L1019.5,9.09 M1794,9.09 L1791,9.09" stroke="#484848" stroke-width="1" fill="none"/>
<text x="1016.50" y="508.30" font-family="'Liberation Sans', sans-serif" font-size="26.5" text-anchor="middle" textLength="14.30" lengthAdjust="spacingAndGlyphs" stroke="#000" stroke-width="0.3">0</text>
<text x="1172.00" y="508.30" font-family="'Liberation Sans', sans-serif" font-size="26.5" text-anchor="middle" textLength="14.30" lengthAdjust="spacingAndGlyphs" stroke="#000" stroke-width="0.3">1</text>
<text x="1327.50" y="508.30" font-family="'Liberation Sans', sans-serif" font-size="26.5" text-anchor="middle" textLength="14.30" lengthAdjust="spacingAndGlyphs" stroke="#000" stroke-width="0.3">2</text>
<text x="1483.00" y="508.30" font-family="'Liberation Sans', sans-serif" font-size="26.5" text-anchor="middle" textLength="14.30" lengthAdjust="spacingAndGlyphs" stroke="#000" stroke-width="0.3">3</text>
<text x="1638.50" y="508.30" font-family="'Liberation Sans', sans-serif" font-size="26.5" text-anchor="middle" textLength="14.30" lengthAdjust="spacingAndGlyphs" stroke="#000" stroke-width="0.3">4</text>
<text x="1794.00" y="508.30" font-family="'Liberation Sans', sans-serif" font-size="26.5" text-anchor="middle" textLength="14.30" lengthAdjust="spacingAndGlyphs" stroke="#000" stroke-width="0.3">5</text>
<text x="1011.00" y="479.50" font-family="'Liberation Sans', sans-serif" font-size="26.5" text-anchor="end" textLength="35.73" lengthAdjust="spacingAndGlyphs" stroke="#000" stroke-width="0.3">0.0</text>
<text x="1011.00" y="415.72" font-family="'Liberation Sans', sans-serif" font-size="26.5" text-anchor="end" textLength="35.73" lengthAdjust="spacingAndGlyphs" stroke="#000" stroke-width="0.3">0.2</text>
<text x="1011.00" y="351.94" font-family="'Liberation Sans', sans-serif" font-size="26.5" text-anchor="end" textLength="35.73" lengthAdjust="spacingAndGlyphs" stroke="#000" stroke-width="0.3">0.4</text>
<text x="1011.00" y="288.16" font-family="'Liberation Sans', sans-serif" font-size="26.5" text-anchor="end" textLength="35.73" lengthAdjust="spacingAndGlyphs" stroke="#000" stroke-width="0.3">0.6</text>
<text x="1011.00" y="224.38" font-family="'Liberation Sans', sans-serif" font-size="26.5" text-anchor="end" textLength="35.73" lengthAdjust="spacingAndGlyphs" stroke="#000" stroke-width="0.3">0.8</text>
<text x="1011.00" y="160.60" font-family="'Liberation Sans', sans-serif" font-size="26.5" text-anchor="end" textLength="35.73" lengthAdjust="spacingAndGlyphs" stroke="#000" stroke-width="0.3">1.0</text>
<text x="1011.00" y="96.82" font-family="'Liberation Sans', sans-serif" font-size="26.5" text-anchor="end" textLength="35.73" lengthAdjust="spacingAndGlyphs" stroke="#000" stroke-width="0.3">1.2</text>
<text x="1011.00" y="33.04" font-family="'Liberation Sans', sans-serif" font-size="26.5" text-anchor="end" textLength="35.73" lengthAdjust="spacingAndGlyphs" stroke="#000" stroke-width="0.3">1.4</text>
<text x="1368.53" y="560.50" font-family="'Liberation Serif', serif" font-style="italic" font-size="42.50" textLength="26.10" lengthAdjust="spacingAndGlyphs" fill="#000" stroke="#fff" stroke-width="0.47">T</text>
<text x="1399.00" y="570.00" font-family="'Liberation Serif', serif" font-style="normal" font-size="59.00" textLength="14.70" lengthAdjust="spacingAndGlyphs" fill="#000" stroke="#fff" stroke-width="0.65">/</text>
<text x="1417.22" y="560.50" font-family="'Liberation Serif', serif" font-style="italic" font-size="42.50" textLength="20.02" lengthAdjust="spacingAndGlyphs" fill="#000" stroke="#fff" stroke-width="0.47">J</text>
<g transform="rotate(-90)">
<text x="-248.53" y="951.20" font-family="'Liberation Serif', serif" font-style="italic" font-size="36.50" textLength="16.33" lengthAdjust="spacingAndGlyphs" fill="#000" stroke="#fff" stroke-width="0.40">c</text>
</g>
<path d="M927.9,232.1 L927.9,245.8" stroke="#000" stroke-width="1.8"/>
<path d="M1582.4,344.10 L1616.7,344.10" stroke="#ebb42a" stroke-width="2.8" fill="none"/>
<text x="1629.53" y="352.10" font-family="'Liberation Serif', serif" font-style="normal" font-size="23.30" textLength="12.36" lengthAdjust="spacingAndGlyphs" fill="#000" stroke="#fff" stroke-width="0.26">1</text>
<text x="1642.90" y="357.90" font-family="'Liberation Serif', serif" font-style="normal" font-size="35.50" textLength="9.20" lengthAdjust="spacingAndGlyphs" fill="#000" stroke="#fff" stroke-width="0.39">/</text>
<text x="1654.39" y="352.50" font-family="'Liberation Serif', serif" font-style="normal" font-size="26.00" textLength="7.65" lengthAdjust="spacingAndGlyphs" fill="#000" stroke="#fff" stroke-width="0.29">(</text>
<text x="1663.20" y="352.10" font-family="'Liberation Serif', serif" font-style="italic" font-size="24.50" textLength="21.42" lengthAdjust="spacingAndGlyphs" fill="#000" stroke="#fff" stroke-width="0.27">M</text>
<text x="1687.90" y="352.10" font-family="'Liberation Serif', serif" font-style="italic" font-size="24.50" textLength="11.86" lengthAdjust="spacingAndGlyphs" fill="#000" stroke="#fff" stroke-width="0.27">J</text>
<text x="1701.77" y="352.50" font-family="'Liberation Serif', serif" font-style="normal" font-size="26.00" textLength="7.52" lengthAdjust="spacingAndGlyphs" fill="#000" stroke="#fff" stroke-width="0.29">)</text>
<text x="1716.20" y="353.60" font-family="'Liberation Serif', serif" font-style="normal" font-size="23.30" textLength="19.27" lengthAdjust="spacingAndGlyphs" fill="#000" stroke="#fff" stroke-width="0.26">=</text>
<text x="1740.95" y="352.10" font-family="'Liberation Serif', serif" font-style="normal" font-size="23.30" textLength="9.79" lengthAdjust="spacingAndGlyphs" fill="#000" stroke="#fff" stroke-width="0.26">0</text>
<text x="1752.18" y="352.10" font-family="'Liberation Serif', serif" font-style="normal" font-size="23.30" textLength="6.14" lengthAdjust="spacingAndGlyphs" fill="#000" stroke="#fff" stroke-width="0.26">.</text>
<text x="1758.67" y="352.10" font-family="'Liberation Serif', serif" font-style="normal" font-size="23.30" textLength="11.42" lengthAdjust="spacingAndGlyphs" fill="#000" stroke="#fff" stroke-width="0.26">5</text>
<path d="M1582.4,392.75 L1616.7,392.75" stroke="#d8561f" stroke-width="2.8" fill="none"/>
<text x="1629.53" y="400.75" font-family="'Liberation Serif', serif" font-style="normal" font-size="23.30" textLength="12.36" lengthAdjust="spacingAndGlyphs" fill="#000" stroke="#fff" stroke-width="0.26">1</text>
<text x="1642.90" y="406.55" font-family="'Liberation Serif', serif" font-style="normal" font-size="35.50" textLength="9.20" lengthAdjust="spacingAndGlyphs" fill="#000" stroke="#fff" stroke-width="0.39">/</text>
<text x="1654.39" y="401.15" font-family="'Liberation Serif', serif" font-style="normal" font-size="26.00" textLength="7.65" lengthAdjust="spacingAndGlyphs" fill="#000" stroke="#fff" stroke-width="0.29">(</text>
<text x="1663.20" y="400.75" font-family="'Liberation Serif', serif" font-style="italic" font-size="24.50" textLength="21.42" lengthAdjust="spacingAndGlyphs" fill="#000" stroke="#fff" stroke-width="0.27">M</text>
<text x="1687.90" y="400.75" font-family="'Liberation Serif', serif" font-style="italic" font-size="24.50" textLength="11.86" lengthAdjust="spacingAndGlyphs" fill="#000" stroke="#fff" stroke-width="0.27">J</text>
<text x="1701.77" y="401.15" font-family="'Liberation Serif', serif" font-style="normal" font-size="26.00" textLength="7.52" lengthAdjust="spacingAndGlyphs" fill="#000" stroke="#fff" stroke-width="0.29">)</text>
<text x="1716.20" y="402.25" font-family="'Liberation Serif', serif" font-style="normal" font-size="23.30" textLength="19.27" lengthAdjust="spacingAndGlyphs" fill="#000" stroke="#fff" stroke-width="0.26">=</text>
<text x="1740.48" y="400.75" font-family="'Liberation Serif', serif" font-style="normal" font-size="23.30" textLength="11.50" lengthAdjust="spacingAndGlyphs" fill="#000" stroke="#fff" stroke-width="0.26">1</text>
<text x="1752.18" y="400.75" font-family="'Liberation Serif', serif" font-style="normal" font-size="23.30" textLength="6.14" lengthAdjust="spacingAndGlyphs" fill="#000" stroke="#fff" stroke-width="0.26">.</text>
<text x="1759.17" y="400.75" font-family="'Liberation Serif', serif" font-style="normal" font-size="23.30" textLength="10.85" lengthAdjust="spacingAndGlyphs" fill="#000" stroke="#fff" stroke-width="0.26">0</text>
<path d="M1582.4,441.40 L1616.7,441.40" stroke="#a31c21" stroke-width="2.8" fill="none"/>
<text x="1629.53" y="449.40" font-family="'Liberation Serif', serif" font-style="normal" font-size="23.30" textLength="12.36" lengthAdjust="spacingAndGlyphs" fill="#000" stroke="#fff" stroke-width="0.26">1</text>
<text x="1642.90" y="455.20" font-family="'Liberation Serif', serif" font-style="normal" font-size="35.50" textLength="9.20" lengthAdjust="spacingAndGlyphs" fill="#000" stroke="#fff" stroke-width="0.39">/</text>
<text x="1654.39" y="449.80" font-family="'Liberation Serif', serif" font-style="normal" font-size="26.00" textLength="7.65" lengthAdjust="spacingAndGlyphs" fill="#000" stroke="#fff" stroke-width="0.29">(</text>
<text x="1663.20" y="449.40" font-family="'Liberation Serif', serif" font-style="italic" font-size="24.50" textLength="21.42" lengthAdjust="spacingAndGlyphs" fill="#000" stroke="#fff" stroke-width="0.27">M</text>
<text x="1687.90" y="449.40" font-family="'Liberation Serif', serif" font-style="italic" font-size="24.50" textLength="11.86" lengthAdjust="spacingAndGlyphs" fill="#000" stroke="#fff" stroke-width="0.27">J</text>
<text x="1701.77" y="449.80" font-family="'Liberation Serif', serif" font-style="normal" font-size="26.00" textLength="7.52" lengthAdjust="spacingAndGlyphs" fill="#000" stroke="#fff" stroke-width="0.29">)</text>
<text x="1716.20" y="450.90" font-family="'Liberation Serif', serif" font-style="normal" font-size="23.30" textLength="19.27" lengthAdjust="spacingAndGlyphs" fill="#000" stroke="#fff" stroke-width="0.26">=</text>
<text x="1740.48" y="449.40" font-family="'Liberation Serif', serif" font-style="normal" font-size="23.30" textLength="11.50" lengthAdjust="spacingAndGlyphs" fill="#000" stroke="#fff" stroke-width="0.26">1</text>
<text x="1752.18" y="449.40" font-family="'Liberation Serif', serif" font-style="normal" font-size="23.30" textLength="6.14" lengthAdjust="spacingAndGlyphs" fill="#000" stroke="#fff" stroke-width="0.26">.</text>
<text x="1757.92" y="449.40" font-family="'Liberation Serif', serif" font-style="normal" font-size="23.30" textLength="11.97" lengthAdjust="spacingAndGlyphs" fill="#000" stroke="#fff" stroke-width="0.26">7</text>
<g stroke="#000" stroke-opacity="0.2" stroke-width="1.8" fill="none">
<path d="M1500.65,23.4 L1500.65,240.6 M1413,186.30 L1763.6,186.30 M1588.30,23.4 L1588.30,240.6 M1413,132.00 L1763.6,132.00 M1675.95,23.4 L1675.95,240.6 M1413,77.70 L1763.6,77.70"/>
</g>
<clipPath id="ic"><rect x="1413" y="23.4" width="350.6" height="217.2"/></clipPath>
<g fill="none" stroke-linejoin="round" clip-path="url(#ic)">
<path d="M1451.39,240.25 L1452.42,240.25 L1453.45,240.24 L1454.48,240.22 L1455.51,240.18 L1456.54,240.14 L1457.57,240.08 L1458.61,240.02 L1459.64,239.94 L1460.67,239.86 L1461.70,239.76 L1462.73,239.65 L1463.76,239.54 L1464.79,239.41 L1465.82,239.27 L1466.85,239.12 L1467.88,238.96 L1468.91,238.79 L1469.94,238.61 L1470.97,238.42 L1472.00,238.22 L1473.04,238.01 L1474.07,237.79 L1475.10,237.55 L1476.13,237.31 L1477.16,237.06 L1478.19,236.79 L1479.22,236.52 L1480.25,236.24 L1481.28,235.94 L1482.31,235.64 L1483.34,235.32 L1484.37,235.00 L1485.40,234.66 L1486.43,234.32 L1487.47,233.96 L1488.50,233.59 L1489.53,233.22 L1490.56,232.83 L1491.59,232.43 L1492.62,232.03 L1493.65,231.61 L1494.68,231.19 L1495.71,230.75 L1496.74,230.30 L1497.77,229.85 L1498.80,229.38 L1499.83,228.91 L1500.86,228.42 L1501.90,227.92 L1502.93,227.42 L1503.96,226.90 L1504.99,226.38 L1506.02,225.85 L1507.05,225.30 L1508.08,224.75 L1509.11,224.19 L1510.14,223.61 L1511.17,223.03 L1512.20,222.44 L1513.23,221.84 L1514.26,221.23 L1515.29,220.61 L1516.33,219.99 L1517.36,219.35 L1518.39,218.70 L1519.42,218.05 L1520.45,217.38 L1521.48,216.71 L1522.51,216.03 L1523.54,215.33 L1524.57,214.63 L1525.60,213.92 L1526.63,213.21 L1527.66,212.48 L1528.69,211.75 L1529.72,211.00 L1530.76,210.25 L1531.79,209.49 L1532.82,208.72 L1533.85,207.94 L1534.88,207.15 L1535.91,206.36 L1536.94,205.56 L1537.97,204.75 L1539.00,203.93 L1540.03,203.10 L1541.06,202.27 L1542.09,201.42 L1543.12,200.57 L1544.15,199.71 L1545.19,198.85 L1546.22,197.97 L1547.25,197.09 L1548.28,196.20 L1549.31,195.30 L1550.34,194.40 L1551.37,193.49 L1552.40,192.57 L1553.43,191.64 L1554.46,190.70 L1555.49,189.76 L1556.52,188.81 L1557.55,187.86 L1558.58,186.90 L1559.62,185.93 L1560.65,184.95 L1561.68,183.97 L1562.71,182.98 L1563.74,181.98 L1564.77,180.98 L1565.80,179.97 L1566.83,178.95 L1567.86,177.93 L1568.89,176.90 L1569.92,175.86 L1570.95,174.82 L1571.98,173.77 L1573.01,172.72 L1574.05,171.66 L1575.08,170.59 L1576.11,169.52 L1577.14,168.44 L1578.17,167.36 L1579.20,166.27 L1580.23,165.17 L1581.26,164.07 L1582.29,162.96 L1583.32,161.85 L1584.35,160.73 L1585.38,159.61 L1586.41,158.48 L1587.44,157.35 L1588.48,156.21 L1589.51,155.07 L1590.54,153.92 L1591.57,152.77 L1592.60,151.61 L1593.63,150.45 L1594.66,149.28 L1595.69,148.11 L1596.72,146.93 L1597.75,145.75 L1598.78,144.57 L1599.81,143.38 L1600.84,142.18 L1601.87,140.99 L1602.91,139.78 L1603.94,138.58 L1604.97,137.37 L1606.00,136.15 L1607.03,134.93 L1608.06,133.71 L1609.09,132.49 L1610.12,131.26 L1611.15,130.03 L1612.18,128.79 L1613.21,127.55 L1614.24,126.31 L1615.27,125.06 L1616.30,123.81 L1617.34,122.56 L1618.37,121.30 L1619.40,120.05 L1620.43,118.78 L1621.46,117.52 L1622.49,116.25 L1623.52,114.98 L1624.55,113.71 L1625.58,112.44 L1626.61,111.16 L1627.64,109.88 L1628.67,108.60 L1629.70,107.31 L1630.73,106.02 L1631.77,104.74 L1632.80,103.45 L1633.83,102.15 L1634.86,100.86 L1635.89,99.56 L1636.92,98.26 L1637.95,96.96 L1638.98,95.66 L1640.01,94.36 L1641.04,93.05 L1642.07,91.74 L1643.10,90.44 L1644.13,89.13 L1645.16,87.82 L1646.20,86.50 L1647.23,85.19 L1648.26,83.88 L1649.29,82.56 L1650.32,81.25 L1651.35,79.93 L1652.38,78.61 L1653.41,77.29 L1654.44,75.98 L1655.47,74.66 L1656.50,73.34 L1657.53,72.02 L1658.56,70.69 L1659.59,69.37 L1660.63,68.05 L1661.66,66.73 L1662.69,65.41 L1663.72,64.09 L1664.75,62.76 L1665.78,61.44 L1666.81,60.12 L1667.84,58.80 L1668.87,57.48 L1669.90,56.16 L1670.93,54.84 L1671.96,53.52 L1672.99,52.20 L1674.02,50.88 L1675.06,49.56 L1676.09,48.24 L1677.12,46.92 L1678.15,45.61 L1679.18,44.29 L1680.21,42.97 L1681.24,41.66 L1682.27,40.35 L1683.30,39.03 L1684.33,37.72 L1685.36,36.41 L1686.39,35.10 L1687.42,33.80 L1688.45,32.49 L1689.49,31.19 L1690.52,29.88 L1691.55,28.58 L1692.58,27.28 L1693.61,25.98 L1694.64,24.68 L1695.67,23.39 L1696.70,22.09 L1697.73,20.80 L1698.76,19.51 L1699.79,18.22 L1700.82,16.94 L1701.85,15.65 L1702.88,14.37 L1703.91,13.09 L1704.95,11.81 L1705.98,10.53 L1707.01,9.26 L1708.04,7.99 L1709.07,6.72 L1710.10,5.45 L1711.13,4.19 L1712.16,2.92 L1713.19,1.66 L1714.22,0.40 L1715.25,-0.85 L1716.28,-2.10 L1717.31,-3.36 L1718.34,-4.60 L1719.38,-5.85 L1720.41,-7.09 L1721.44,-8.33 L1722.47,-9.57 L1723.50,-10.80 L1724.53,-12.03 L1725.56,-13.26 L1726.59,-14.49 L1727.62,-15.71 L1728.65,-16.93 L1729.68,-18.15 L1730.71,-19.36 L1731.74,-20.57 L1732.77,-21.78 L1733.81,-22.99 L1734.84,-24.19 L1735.87,-25.39 L1736.90,-26.58 L1737.93,-27.78 L1738.96,-28.96 L1739.99,-30.15 L1741.02,-31.33 L1742.05,-32.51 L1743.08,-33.69 L1744.11,-34.86 L1745.14,-36.03 L1746.17,-37.20 L1747.20,-38.36 L1748.24,-39.52 L1749.27,-40.68 L1750.30,-41.83 L1751.33,-42.98 L1752.36,-44.13 L1753.39,-45.27 L1754.42,-46.41 L1755.45,-47.55 L1756.48,-48.68 L1757.51,-49.81 L1758.54,-50.94 L1759.57,-52.06 L1760.60,-53.18 L1761.63,-54.30 L1762.67,-55.41 L1763.70,-56.52 L1764.73,-57.63 L1765.76,-58.73 L1766.79,-59.83 L1767.82,-60.92 L1768.85,-62.01 L1769.88,-63.10 L1770.91,-64.19 L1771.94,-65.27 L1772.97,-66.35 L1774.00,-67.42 L1775.03,-68.50 L1776.06,-69.56 L1777.10,-70.63 L1778.13,-71.69 L1779.16,-72.75 L1780.19,-73.81 L1781.22,-74.86 L1782.25,-75.91 L1783.28,-76.95 L1784.31,-77.99 L1785.34,-79.03 L1786.37,-80.07 L1787.40,-81.10 L1788.43,-82.13 L1789.46,-83.16 L1790.49,-84.18 L1791.53,-85.20 L1792.56,-86.22 L1793.59,-87.23 L1794.62,-88.25 L1795.65,-89.25 L1796.68,-90.26 L1797.71,-91.26 L1798.74,-92.26 L1799.77,-93.26 L1800.80,-94.25 L1801.83,-95.25 L1802.86,-96.24 L1803.89,-97.22 L1804.92,-98.21 L1805.96,-99.19 L1806.99,-100.17 L1808.02,-101.14 L1809.05,-102.12 L1810.08,-103.09 L1811.11,-104.06 L1812.14,-105.03 L1813.17,-105.99 L1814.20,-106.95 L1815.23,-107.92 L1816.26,-108.87 L1817.29,-109.83 L1818.32,-110.79 L1819.35,-111.74 L1820.39,-112.69 L1821.42,-113.64 L1822.45,-114.59 L1823.48,-115.54 L1824.51,-116.48 L1825.54,-117.42 L1826.57,-118.37 L1827.60,-119.31 L1828.63,-120.25 L1829.66,-121.19 L1830.69,-122.12 L1831.72,-123.06 L1832.75,-124.00 L1833.78,-124.93 L1834.82,-125.87 L1835.85,-126.80 L1836.88,-127.73 L1837.91,-128.66 L1838.94,-129.60 L1839.97,-130.53 L1841.00,-131.46 L1842.03,-132.39 L1843.06,-133.32 L1844.09,-134.25 L1845.12,-135.18 L1846.15,-136.12 L1847.18,-137.05 L1848.21,-137.98 L1849.25,-138.91 L1850.28,-139.85 L1851.31,-140.78 L1852.34,-141.72 L1853.37,-142.65 L1854.40,-143.59 L1855.43,-144.53 L1856.46,-145.47 L1857.49,-146.41 L1858.52,-147.35 L1859.55,-148.30 L1860.58,-149.24 L1861.61,-150.19 L1862.64,-151.14" stroke="#ebb42a" stroke-width="2.8"/>
<path d="M1461.21,240.60 L1462.09,240.60 L1462.97,240.54 L1463.85,240.46 L1464.73,240.38 L1465.61,240.30 L1466.49,240.21 L1467.37,240.13 L1468.25,240.05 L1469.14,239.96 L1470.02,239.87 L1470.90,239.78 L1471.78,239.69 L1472.66,239.60 L1473.54,239.51 L1474.42,239.41 L1475.30,239.32 L1476.18,239.22 L1477.06,239.12 L1477.94,239.02 L1478.83,238.91 L1479.71,238.81 L1480.59,238.70 L1481.47,238.59 L1482.35,238.48 L1483.23,238.37 L1484.11,238.25 L1484.99,238.14 L1485.87,238.02 L1486.75,237.89 L1487.63,237.77 L1488.52,237.65 L1489.40,237.52 L1490.28,237.39 L1491.16,237.25 L1492.04,237.12 L1492.92,236.98 L1493.80,236.84 L1494.68,236.70 L1495.56,236.55 L1496.44,236.41 L1497.32,236.26 L1498.21,236.10 L1499.09,235.95 L1499.97,235.79 L1500.85,235.63 L1501.73,235.46 L1502.61,235.30 L1503.49,235.13 L1504.37,234.95 L1505.25,234.78 L1506.13,234.60 L1507.01,234.42 L1507.89,234.24 L1508.78,234.05 L1509.66,233.86 L1510.54,233.67 L1511.42,233.47 L1512.30,233.27 L1513.18,233.07 L1514.06,232.86 L1514.94,232.65 L1515.82,232.44 L1516.70,232.22 L1517.58,232.01 L1518.47,231.78 L1519.35,231.56 L1520.23,231.33 L1521.11,231.10 L1521.99,230.86 L1522.87,230.63 L1523.75,230.38 L1524.63,230.14 L1525.51,229.89 L1526.39,229.64 L1527.27,229.38 L1528.16,229.12 L1529.04,228.86 L1529.92,228.59 L1530.80,228.32 L1531.68,228.05 L1532.56,227.77 L1533.44,227.49 L1534.32,227.21 L1535.20,226.92 L1536.08,226.63 L1536.96,226.33 L1537.85,226.04 L1538.73,225.73 L1539.61,225.43 L1540.49,225.12 L1541.37,224.80 L1542.25,224.49 L1543.13,224.17 L1544.01,223.84 L1544.89,223.51 L1545.77,223.18 L1546.65,222.85 L1547.54,222.51 L1548.42,222.16 L1549.30,221.82 L1550.18,221.47 L1551.06,221.11 L1551.94,220.75 L1552.82,220.39 L1553.70,220.02 L1554.58,219.65 L1555.46,219.28 L1556.34,218.90 L1557.22,218.52 L1558.11,218.14 L1558.99,217.75 L1559.87,217.36 L1560.75,216.96 L1561.63,216.56 L1562.51,216.15 L1563.39,215.75 L1564.27,215.33 L1565.15,214.92 L1566.03,214.50 L1566.91,214.07 L1567.80,213.65 L1568.68,213.22 L1569.56,212.78 L1570.44,212.34 L1571.32,211.90 L1572.20,211.45 L1573.08,211.00 L1573.96,210.55 L1574.84,210.09 L1575.72,209.63 L1576.60,209.16 L1577.49,208.69 L1578.37,208.22 L1579.25,207.74 L1580.13,207.26 L1581.01,206.77 L1581.89,206.29 L1582.77,205.79 L1583.65,205.30 L1584.53,204.80 L1585.41,204.29 L1586.29,203.78 L1587.18,203.27 L1588.06,202.76 L1588.94,202.24 L1589.82,201.72 L1590.70,201.19 L1591.58,200.66 L1592.46,200.13 L1593.34,199.59 L1594.22,199.05 L1595.10,198.50 L1595.98,197.95 L1596.87,197.40 L1597.75,196.84 L1598.63,196.28 L1599.51,195.72 L1600.39,195.15 L1601.27,194.58 L1602.15,194.01 L1603.03,193.43 L1603.91,192.85 L1604.79,192.26 L1605.67,191.68 L1606.55,191.08 L1607.44,190.49 L1608.32,189.89 L1609.20,189.29 L1610.08,188.68 L1610.96,188.07 L1611.84,187.46 L1612.72,186.84 L1613.60,186.22 L1614.48,185.60 L1615.36,184.97 L1616.24,184.34 L1617.13,183.70 L1618.01,183.07 L1618.89,182.43 L1619.77,181.78 L1620.65,181.14 L1621.53,180.48 L1622.41,179.83 L1623.29,179.17 L1624.17,178.51 L1625.05,177.85 L1625.93,177.18 L1626.82,176.51 L1627.70,175.84 L1628.58,175.16 L1629.46,174.48 L1630.34,173.80 L1631.22,173.11 L1632.10,172.43 L1632.98,171.73 L1633.86,171.04 L1634.74,170.34 L1635.62,169.64 L1636.51,168.94 L1637.39,168.23 L1638.27,167.52 L1639.15,166.80 L1640.03,166.09 L1640.91,165.37 L1641.79,164.65 L1642.67,163.92 L1643.55,163.20 L1644.43,162.46 L1645.31,161.73 L1646.20,161.00 L1647.08,160.26 L1647.96,159.52 L1648.84,158.77 L1649.72,158.02 L1650.60,157.27 L1651.48,156.52 L1652.36,155.77 L1653.24,155.01 L1654.12,154.25 L1655.00,153.49 L1655.88,152.72 L1656.77,151.95 L1657.65,151.18 L1658.53,150.41 L1659.41,149.63 L1660.29,148.85 L1661.17,148.07 L1662.05,147.29 L1662.93,146.51 L1663.81,145.72 L1664.69,144.93 L1665.57,144.14 L1666.46,143.34 L1667.34,142.55 L1668.22,141.75 L1669.10,140.94 L1669.98,140.14 L1670.86,139.34 L1671.74,138.53 L1672.62,137.72 L1673.50,136.91 L1674.38,136.09 L1675.26,135.28 L1676.15,134.46 L1677.03,133.64 L1677.91,132.81 L1678.79,131.99 L1679.67,131.16 L1680.55,130.34 L1681.43,129.50 L1682.31,128.67 L1683.19,127.84 L1684.07,127.00 L1684.95,126.17 L1685.84,125.33 L1686.72,124.49 L1687.60,123.64 L1688.48,122.80 L1689.36,121.95 L1690.24,121.10 L1691.12,120.25 L1692.00,119.40 L1692.88,118.55 L1693.76,117.70 L1694.64,116.84 L1695.53,115.98 L1696.41,115.12 L1697.29,114.26 L1698.17,113.40 L1699.05,112.54 L1699.93,111.67 L1700.81,110.81 L1701.69,109.94 L1702.57,109.07 L1703.45,108.20 L1704.33,107.33 L1705.21,106.46 L1706.10,105.58 L1706.98,104.71 L1707.86,103.83 L1708.74,102.95 L1709.62,102.07 L1710.50,101.19 L1711.38,100.31 L1712.26,99.43 L1713.14,98.55 L1714.02,97.66 L1714.90,96.78 L1715.79,95.89 L1716.67,95.01 L1717.55,94.12 L1718.43,93.23 L1719.31,92.34 L1720.19,91.45 L1721.07,90.56 L1721.95,89.66 L1722.83,88.77 L1723.71,87.88 L1724.59,86.98 L1725.48,86.09 L1726.36,85.19 L1727.24,84.29 L1728.12,83.40 L1729.00,82.50 L1729.88,81.60 L1730.76,80.70 L1731.64,79.80 L1732.52,78.90 L1733.40,78.00 L1734.28,77.09 L1735.17,76.19 L1736.05,75.29 L1736.93,74.39 L1737.81,73.48 L1738.69,72.58 L1739.57,71.67 L1740.45,70.77 L1741.33,69.86 L1742.21,68.96 L1743.09,68.05 L1743.97,67.15 L1744.86,66.24 L1745.74,65.33 L1746.62,64.42 L1747.50,63.52 L1748.38,62.61 L1749.26,61.70 L1750.14,60.79 L1751.02,59.89 L1751.90,58.98 L1752.78,58.07 L1753.66,57.16 L1754.55,56.25 L1755.43,55.34 L1756.31,54.44 L1757.19,53.53 L1758.07,52.62 L1758.95,51.71 L1759.83,50.80 L1760.71,49.89 L1761.59,48.99 L1762.47,48.08 L1763.35,47.17 L1764.23,46.26 L1765.12,45.35 L1766.00,44.44 L1766.88,43.54 L1767.76,42.63 L1768.64,41.72 L1769.52,40.81 L1770.40,39.91 L1771.28,39.00 L1772.16,38.09 L1773.04,37.19 L1773.92,36.28 L1774.81,35.38 L1775.69,34.47 L1776.57,33.57 L1777.45,32.66 L1778.33,31.76 L1779.21,30.85 L1780.09,29.95 L1780.97,29.05 L1781.85,28.14 L1782.73,27.24 L1783.61,26.34 L1784.50,25.44 L1785.38,24.54 L1786.26,23.64 L1787.14,22.74 L1788.02,21.84 L1788.90,20.94 L1789.78,20.04 L1790.66,19.14 L1791.54,18.24 L1792.42,17.34 L1793.30,16.45 L1794.19,15.55 L1795.07,14.66 L1795.95,13.76 L1796.83,12.87 L1797.71,11.97 L1798.59,11.08 L1799.47,10.18 L1800.35,9.29 L1801.23,8.40 L1802.11,7.51 L1802.99,6.62 L1803.88,5.73 L1804.76,4.84 L1805.64,3.95 L1806.52,3.06 L1807.40,2.18 L1808.28,1.29 L1809.16,0.40 L1810.04,-0.48 L1810.92,-1.37 L1811.80,-2.25 L1812.68,-3.14" stroke="#d8561f" stroke-width="2.8"/>
<path d="M1461.21,240.60 L1461.87,240.60 L1462.53,240.60 L1463.20,240.59 L1463.86,240.58 L1464.52,240.57 L1465.19,240.56 L1465.85,240.54 L1466.51,240.53 L1467.18,240.51 L1467.84,240.49 L1468.51,240.47 L1469.17,240.45 L1469.83,240.43 L1470.50,240.40 L1471.16,240.38 L1471.82,240.35 L1472.49,240.32 L1473.15,240.29 L1473.81,240.26 L1474.48,240.23 L1475.14,240.20 L1475.80,240.17 L1476.47,240.13 L1477.13,240.10 L1477.79,240.06 L1478.46,240.02 L1479.12,239.98 L1479.78,239.94 L1480.45,239.90 L1481.11,239.85 L1481.77,239.81 L1482.44,239.76 L1483.10,239.72 L1483.76,239.67 L1484.43,239.62 L1485.09,239.57 L1485.75,239.52 L1486.42,239.47 L1487.08,239.41 L1487.74,239.36 L1488.41,239.30 L1489.07,239.25 L1489.73,239.19 L1490.40,239.13 L1491.06,239.07 L1491.72,239.01 L1492.39,238.95 L1493.05,238.89 L1493.71,238.82 L1494.38,238.76 L1495.04,238.69 L1495.71,238.62 L1496.37,238.56 L1497.03,238.49 L1497.70,238.42 L1498.36,238.34 L1499.02,238.27 L1499.69,238.20 L1500.35,238.12 L1501.01,238.05 L1501.68,237.97 L1502.34,237.89 L1503.00,237.81 L1503.67,237.73 L1504.33,237.65 L1504.99,237.57 L1505.66,237.49 L1506.32,237.41 L1506.98,237.32 L1507.65,237.23 L1508.31,237.15 L1508.97,237.06 L1509.64,236.97 L1510.30,236.88 L1510.96,236.79 L1511.63,236.70 L1512.29,236.60 L1512.95,236.51 L1513.62,236.41 L1514.28,236.32 L1514.94,236.22 L1515.61,236.12 L1516.27,236.02 L1516.93,235.92 L1517.60,235.82 L1518.26,235.72 L1518.92,235.61 L1519.59,235.51 L1520.25,235.40 L1520.91,235.29 L1521.58,235.19 L1522.24,235.08 L1522.91,234.97 L1523.57,234.86 L1524.23,234.74 L1524.90,234.63 L1525.56,234.52 L1526.22,234.40 L1526.89,234.28 L1527.55,234.17 L1528.21,234.05 L1528.88,233.93 L1529.54,233.81 L1530.20,233.68 L1530.87,233.56 L1531.53,233.44 L1532.19,233.31 L1532.86,233.19 L1533.52,233.06 L1534.18,232.93 L1534.85,232.80 L1535.51,232.67 L1536.17,232.54 L1536.84,232.40 L1537.50,232.27 L1538.16,232.13 L1538.83,232.00 L1539.49,231.86 L1540.15,231.72 L1540.82,231.58 L1541.48,231.44 L1542.14,231.30 L1542.81,231.15 L1543.47,231.01 L1544.13,230.86 L1544.80,230.71 L1545.46,230.57 L1546.12,230.42 L1546.79,230.27 L1547.45,230.11 L1548.12,229.96 L1548.78,229.81 L1549.44,229.65 L1550.11,229.49 L1550.77,229.34 L1551.43,229.18 L1552.10,229.02 L1552.76,228.85 L1553.42,228.69 L1554.09,228.53 L1554.75,228.36 L1555.41,228.19 L1556.08,228.03 L1556.74,227.86 L1557.40,227.69 L1558.07,227.51 L1558.73,227.34 L1559.39,227.17 L1560.06,226.99 L1560.72,226.81 L1561.38,226.64 L1562.05,226.46 L1562.71,226.27 L1563.37,226.09 L1564.04,225.91 L1564.70,225.72 L1565.36,225.54 L1566.03,225.35 L1566.69,225.16 L1567.35,224.97 L1568.02,224.78 L1568.68,224.59 L1569.34,224.39 L1570.01,224.19 L1570.67,224.00 L1571.33,223.80 L1572.00,223.60 L1572.66,223.40 L1573.32,223.19 L1573.99,222.99 L1574.65,222.78 L1575.32,222.58 L1575.98,222.37 L1576.64,222.16 L1577.31,221.95 L1577.97,221.73 L1578.63,221.52 L1579.30,221.30 L1579.96,221.09 L1580.62,220.87 L1581.29,220.65 L1581.95,220.43 L1582.61,220.20 L1583.28,219.98 L1583.94,219.75 L1584.60,219.52 L1585.27,219.29 L1585.93,219.06 L1586.59,218.83 L1587.26,218.60 L1587.92,218.36 L1588.58,218.13 L1589.25,217.89 L1589.91,217.65 L1590.57,217.41 L1591.24,217.16 L1591.90,216.92 L1592.56,216.67 L1593.23,216.43 L1593.89,216.18 L1594.55,215.93 L1595.22,215.67 L1595.88,215.42 L1596.54,215.16 L1597.21,214.91 L1597.87,214.65 L1598.53,214.39 L1599.20,214.13 L1599.86,213.86 L1600.52,213.60 L1601.19,213.33 L1601.85,213.06 L1602.52,212.79 L1603.18,212.52 L1603.84,212.25 L1604.51,211.98 L1605.17,211.70 L1605.83,211.42 L1606.50,211.14 L1607.16,210.86 L1607.82,210.58 L1608.49,210.29 L1609.15,210.01 L1609.81,209.72 L1610.48,209.43 L1611.14,209.14 L1611.80,208.85 L1612.47,208.55 L1613.13,208.26 L1613.79,207.96 L1614.46,207.66 L1615.12,207.36 L1615.78,207.06 L1616.45,206.75 L1617.11,206.45 L1617.77,206.14 L1618.44,205.83 L1619.10,205.52 L1619.76,205.21 L1620.43,204.89 L1621.09,204.57 L1621.75,204.26 L1622.42,203.94 L1623.08,203.62 L1623.74,203.29 L1624.41,202.97 L1625.07,202.64 L1625.73,202.32 L1626.40,201.99 L1627.06,201.66 L1627.72,201.32 L1628.39,200.99 L1629.05,200.65 L1629.72,200.31 L1630.38,199.98 L1631.04,199.63 L1631.71,199.29 L1632.37,198.95 L1633.03,198.60 L1633.70,198.25 L1634.36,197.90 L1635.02,197.55 L1635.69,197.20 L1636.35,196.84 L1637.01,196.49 L1637.68,196.13 L1638.34,195.77 L1639.00,195.41 L1639.67,195.05 L1640.33,194.68 L1640.99,194.32 L1641.66,193.95 L1642.32,193.58 L1642.98,193.21 L1643.65,192.84 L1644.31,192.46 L1644.97,192.09 L1645.64,191.71 L1646.30,191.33 L1646.96,190.95 L1647.63,190.57 L1648.29,190.18 L1648.95,189.80 L1649.62,189.41 L1650.28,189.02 L1650.94,188.63 L1651.61,188.24 L1652.27,187.85 L1652.93,187.45 L1653.60,187.05 L1654.26,186.66 L1654.92,186.26 L1655.59,185.86 L1656.25,185.45 L1656.92,185.05 L1657.58,184.64 L1658.24,184.24 L1658.91,183.83 L1659.57,183.42 L1660.23,183.00 L1660.90,182.59 L1661.56,182.18 L1662.22,181.76 L1662.89,181.34 L1663.55,180.92 L1664.21,180.50 L1664.88,180.08 L1665.54,179.66 L1666.20,179.23 L1666.87,178.81 L1667.53,178.38 L1668.19,177.95 L1668.86,177.52 L1669.52,177.09 L1670.18,176.65 L1670.85,176.22 L1671.51,175.78 L1672.17,175.35 L1672.84,174.91 L1673.50,174.47 L1674.16,174.03 L1674.83,173.59 L1675.49,173.14 L1676.15,172.70 L1676.82,172.25 L1677.48,171.81 L1678.14,171.36 L1678.81,170.91 L1679.47,170.46 L1680.13,170.01 L1680.80,169.55 L1681.46,169.10 L1682.13,168.64 L1682.79,168.19 L1683.45,167.73 L1684.12,167.27 L1684.78,166.81 L1685.44,166.35 L1686.11,165.89 L1686.77,165.43 L1687.43,164.96 L1688.10,164.50 L1688.76,164.03 L1689.42,163.57 L1690.09,163.10 L1690.75,162.63 L1691.41,162.16 L1692.08,161.69 L1692.74,161.22 L1693.40,160.75 L1694.07,160.28 L1694.73,159.80 L1695.39,159.33 L1696.06,158.85 L1696.72,158.38 L1697.38,157.90 L1698.05,157.43 L1698.71,156.95 L1699.37,156.47 L1700.04,155.99 L1700.70,155.51 L1701.36,155.03 L1702.03,154.55 L1702.69,154.07 L1703.35,153.59 L1704.02,153.11 L1704.68,152.62 L1705.34,152.14 L1706.01,151.66 L1706.67,151.17 L1707.33,150.69 L1708.00,150.20 L1708.66,149.72 L1709.33,149.23 L1709.99,148.75 L1710.65,148.26 L1711.32,147.78 L1711.98,147.29 L1712.64,146.80 L1713.31,146.32 L1713.97,145.83 L1714.63,145.34 L1715.30,144.86 L1715.96,144.37 L1716.62,143.89 L1717.29,143.40 L1717.95,142.91 L1718.61,142.43 L1719.28,141.94 L1719.94,141.45 L1720.60,140.97 L1721.27,140.48 L1721.93,140.00 L1722.59,139.51 L1723.26,139.03 L1723.92,138.54 L1724.58,138.06 L1725.25,137.57 L1725.91,137.09" stroke="#a31c21" stroke-width="2.8"/>
</g>
<path d="M1413,23.4 L1413,240.6 L1763.6,240.6 L1763.6,23.4 Z" stroke="#484848" stroke-width="1" fill="none"/>
<path d="M1413.00,240.6 L1413.00,235.6 M1413.00,23.4 L1413.00,28.4 M1413,240.60 L1418,240.60 M1763.6,240.60 L1758.6,240.60 M1430.53,240.6 L1430.53,237.6 M1430.53,23.4 L1430.53,26.4 M1413,229.74 L1416,229.74 M1763.6,229.74 L1760.6,229.74 M1448.06,240.6 L1448.06,237.6 M1448.06,23.4 L1448.06,26.4 M1413,218.88 L1416,218.88 M1763.6,218.88 L1760.6,218.88 M1465.59,240.6 L1465.59,237.6 M1465.59,23.4 L1465.59,26.4 M1413,208.02 L1416,208.02 M1763.6,208.02 L1760.6,208.02 M1483.12,240.6 L1483.12,237.6 M1483.12,23.4 L1483.12,26.4 M1413,197.16 L1416,197.16 M1763.6,197.16 L1760.6,197.16 M1500.65,240.6 L1500.65,235.6 M1500.65,23.4 L1500.65,28.4 M1413,186.30 L1418,186.30 M1763.6,186.30 L1758.6,186.30 M1518.18,240.6 L1518.18,237.6 M1518.18,23.4 L1518.18,26.4 M1413,175.44 L1416,175.44 M1763.6,175.44 L1760.6,175.44 M1535.71,240.6 L1535.71,237.6 M1535.71,23.4 L1535.71,26.4 M1413,164.58 L1416,164.58 M1763.6,164.58 L1760.6,164.58 M1553.24,240.6 L1553.24,237.6 M1553.24,23.4 L1553.24,26.4 M1413,153.72 L1416,153.72 M1763.6,153.72 L1760.6,153.72 M1570.77,240.6 L1570.77,237.6 M1570.77,23.4 L1570.77,26.4 M1413,142.86 L1416,142.86 M1763.6,142.86 L1760.6,142.86 M1588.30,240.6 L1588.30,235.6 M1588.30,23.4 L1588.30,28.4 M1413,132.00 L1418,132.00 M1763.6,132.00 L1758.6,132.00 M1605.83,240.6 L1605.83,237.6 M1605.83,23.4 L1605.83,26.4 M1413,121.14 L1416,121.14 M1763.6,121.14 L1760.6,121.14 M1623.36,240.6 L1623.36,237.6 M1623.36,23.4 L1623.36,26.4 M1413,110.28 L1416,110.28 M1763.6,110.28 L1760.6,110.28 M1640.89,240.6 L1640.89,237.6 M1640.89,23.4 L1640.89,26.4 M1413,99.42 L1416,99.42 M1763.6,99.42 L1760.6,99.42 M1658.42,240.6 L1658.42,237.6 M1658.42,23.4 L1658.42,26.4 M1413,88.56 L1416,88.56 M1763.6,88.56 L1760.6,88.56 M1675.95,240.6 L1675.95,235.6 M1675.95,23.4 L1675.95,28.4 M1413,77.70 L1418,77.70 M1763.6,77.70 L1758.6,77.70 M1693.48,240.6 L1693.48,237.6 M1693.48,23.4 L1693.48,26.4 M1413,66.84 L1416,66.84 M1763.6,66.84 L1760.6,66.84 M1711.01,240.6 L1711.01,237.6 M1711.01,23.4 L1711.01,26.4 M1413,55.98 L1416,55.98 M1763.6,55.98 L1760.6,55.98 M1728.54,240.6 L1728.54,237.6 M1728.54,23.4 L1728.54,26.4 M1413,45.12 L1416,45.12 M1763.6,45.12 L1760.6,45.12 M1746.07,240.6 L1746.07,237.6 M1746.07,23.4 L1746.07,26.4 M1413,34.26 L1416,34.26 M1763.6,34.26 L1760.6,34.26 M1763.60,240.6 L1763.60,235.6 M1763.60,23.4 L1763.60,28.4 M1413,23.40 L1418,23.40 M1763.6,23.40 L1758.6,23.40" stroke="#484848" stroke-width="1" fill="none"/>
<text x="1413.00" y="268.00" font-family="'Liberation Sans', sans-serif" font-size="26.5" text-anchor="middle" textLength="35.73" lengthAdjust="spacingAndGlyphs" stroke="#000" stroke-width="0.3">0.0</text>
<text x="1407.50" y="248.60" font-family="'Liberation Sans', sans-serif" font-size="26.5" text-anchor="end" textLength="35.73" lengthAdjust="spacingAndGlyphs" stroke="#000" stroke-width="0.3">0.0</text>
<text x="1500.65" y="268.00" font-family="'Liberation Sans', sans-serif" font-size="26.5" text-anchor="middle" textLength="35.73" lengthAdjust="spacingAndGlyphs" stroke="#000" stroke-width="0.3">0.1</text>
<text x="1407.50" y="194.30" font-family="'Liberation Sans', sans-serif" font-size="26.5" text-anchor="end" textLength="35.73" lengthAdjust="spacingAndGlyphs" stroke="#000" stroke-width="0.3">0.1</text>
<text x="1588.30" y="268.00" font-family="'Liberation Sans', sans-serif" font-size="26.5" text-anchor="middle" textLength="35.73" lengthAdjust="spacingAndGlyphs" stroke="#000" stroke-width="0.3">0.2</text>
<text x="1407.50" y="140.00" font-family="'Liberation Sans', sans-serif" font-size="26.5" text-anchor="end" textLength="35.73" lengthAdjust="spacingAndGlyphs" stroke="#000" stroke-width="0.3">0.2</text>
<text x="1675.95" y="268.00" font-family="'Liberation Sans', sans-serif" font-size="26.5" text-anchor="middle" textLength="35.73" lengthAdjust="spacingAndGlyphs" stroke="#000" stroke-width="0.3">0.3</text>
<text x="1407.50" y="85.70" font-family="'Liberation Sans', sans-serif" font-size="26.5" text-anchor="end" textLength="35.73" lengthAdjust="spacingAndGlyphs" stroke="#000" stroke-width="0.3">0.3</text>
<text x="1763.60" y="268.00" font-family="'Liberation Sans', sans-serif" font-size="26.5" text-anchor="middle" textLength="35.73" lengthAdjust="spacingAndGlyphs" stroke="#000" stroke-width="0.3">0.4</text>
<text x="1407.50" y="31.40" font-family="'Liberation Sans', sans-serif" font-size="26.5" text-anchor="end" textLength="35.73" lengthAdjust="spacingAndGlyphs" stroke="#000" stroke-width="0.3">0.4</text>
<rect x="271.20" y="504.67" width="5.28" height="3.83" fill="#fff"/>
<rect x="278.86" y="504.67" width="5.20" height="3.83" fill="#fff"/>
<rect x="93.83" y="112.20" width="5.28" height="3.83" fill="#fff"/>
<rect x="101.49" y="112.20" width="5.20" height="3.83" fill="#fff"/>
<rect x="1165.98" y="505.97" width="5.28" height="3.83" fill="#fff"/>
<rect x="1173.64" y="505.97" width="5.20" height="3.83" fill="#fff"/>
<rect x="976.40" y="158.27" width="5.28" height="3.83" fill="#fff"/>
<rect x="984.05" y="158.27" width="5.20" height="3.83" fill="#fff"/>
<rect x="976.40" y="94.49" width="5.28" height="3.83" fill="#fff"/>
<rect x="984.05" y="94.49" width="5.20" height="3.83" fill="#fff"/>
<rect x="976.40" y="30.71" width="5.28" height="3.83" fill="#fff"/>
<rect x="984.05" y="30.71" width="5.20" height="3.83" fill="#fff"/>
<rect x="1505.35" y="265.67" width="5.28" height="3.83" fill="#fff"/>
<rect x="1513.01" y="265.67" width="5.20" height="3.83" fill="#fff"/>
<rect x="1394.33" y="191.97" width="5.28" height="3.83" fill="#fff"/>
<rect x="1401.99" y="191.97" width="5.20" height="3.83" fill="#fff"/>
</svg>
</body></html>
